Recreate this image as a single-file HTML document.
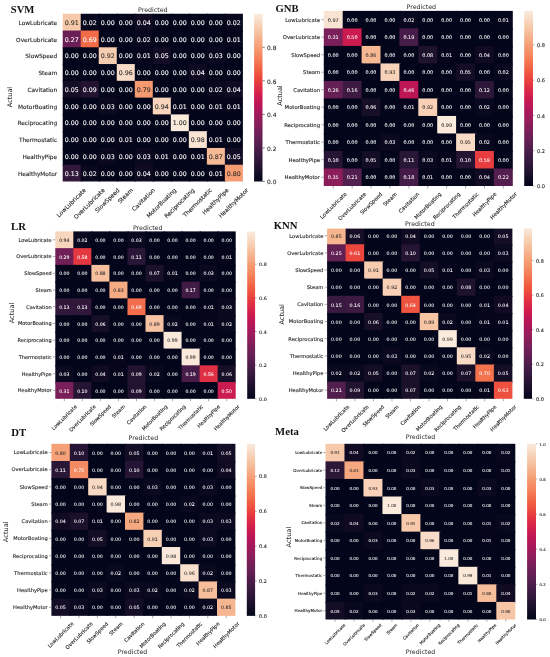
<!DOCTYPE html>
<html><head><meta charset="utf-8"><title>Confusion matrices</title>
<style>
html,body{margin:0;padding:0;background:#fff;}
svg{display:block;font-family:"DejaVu Sans","Liberation Sans",sans-serif;}
</style></head><body>
<svg width="550" height="657" viewBox="0 0 550 657">
<defs><linearGradient id="gsvm" x1="0" y1="0" x2="0" y2="1"><stop offset="0.0000" stop-color="#faebdd"/><stop offset="0.0250" stop-color="#f9e2d0"/><stop offset="0.0500" stop-color="#f8d9c3"/><stop offset="0.0750" stop-color="#f7cfb3"/><stop offset="0.1000" stop-color="#f7c6a6"/><stop offset="0.1250" stop-color="#f6bc99"/><stop offset="0.1500" stop-color="#f6b18b"/><stop offset="0.1750" stop-color="#f6a880"/><stop offset="0.2000" stop-color="#f69c73"/><stop offset="0.2250" stop-color="#f59269"/><stop offset="0.2500" stop-color="#f58860"/><stop offset="0.2750" stop-color="#f47c55"/><stop offset="0.3000" stop-color="#f3714d"/><stop offset="0.3250" stop-color="#f16445"/><stop offset="0.3500" stop-color="#ef5840"/><stop offset="0.3750" stop-color="#ec4c3e"/><stop offset="0.4000" stop-color="#e83f3f"/><stop offset="0.4250" stop-color="#e23442"/><stop offset="0.4500" stop-color="#db2946"/><stop offset="0.4750" stop-color="#d3214b"/><stop offset="0.5000" stop-color="#cb1b4f"/><stop offset="0.5250" stop-color="#c11754"/><stop offset="0.5500" stop-color="#b71657"/><stop offset="0.5750" stop-color="#ab185a"/><stop offset="0.6000" stop-color="#a11a5b"/><stop offset="0.6250" stop-color="#971c5b"/><stop offset="0.6500" stop-color="#8b1d5b"/><stop offset="0.6750" stop-color="#811e5a"/><stop offset="0.7000" stop-color="#751f58"/><stop offset="0.7250" stop-color="#6b1f56"/><stop offset="0.7500" stop-color="#611f53"/><stop offset="0.7750" stop-color="#561e4f"/><stop offset="0.8000" stop-color="#4c1d4b"/><stop offset="0.8250" stop-color="#421b45"/><stop offset="0.8500" stop-color="#381a40"/><stop offset="0.8750" stop-color="#30173a"/><stop offset="0.9000" stop-color="#251433"/><stop offset="0.9250" stop-color="#1d112c"/><stop offset="0.9500" stop-color="#130d25"/><stop offset="0.9750" stop-color="#0a091f"/><stop offset="1.0000" stop-color="#03051a"/></linearGradient>
<linearGradient id="ggnb" x1="0" y1="0" x2="0" y2="1"><stop offset="0.0000" stop-color="#faebdd"/><stop offset="0.0250" stop-color="#f9e2d0"/><stop offset="0.0500" stop-color="#f8d9c3"/><stop offset="0.0750" stop-color="#f7cfb3"/><stop offset="0.1000" stop-color="#f7c6a6"/><stop offset="0.1250" stop-color="#f6bc99"/><stop offset="0.1500" stop-color="#f6b18b"/><stop offset="0.1750" stop-color="#f6a880"/><stop offset="0.2000" stop-color="#f69c73"/><stop offset="0.2250" stop-color="#f59269"/><stop offset="0.2500" stop-color="#f58860"/><stop offset="0.2750" stop-color="#f47c55"/><stop offset="0.3000" stop-color="#f3714d"/><stop offset="0.3250" stop-color="#f16445"/><stop offset="0.3500" stop-color="#ef5840"/><stop offset="0.3750" stop-color="#ec4c3e"/><stop offset="0.4000" stop-color="#e83f3f"/><stop offset="0.4250" stop-color="#e23442"/><stop offset="0.4500" stop-color="#db2946"/><stop offset="0.4750" stop-color="#d3214b"/><stop offset="0.5000" stop-color="#cb1b4f"/><stop offset="0.5250" stop-color="#c11754"/><stop offset="0.5500" stop-color="#b71657"/><stop offset="0.5750" stop-color="#ab185a"/><stop offset="0.6000" stop-color="#a11a5b"/><stop offset="0.6250" stop-color="#971c5b"/><stop offset="0.6500" stop-color="#8b1d5b"/><stop offset="0.6750" stop-color="#811e5a"/><stop offset="0.7000" stop-color="#751f58"/><stop offset="0.7250" stop-color="#6b1f56"/><stop offset="0.7500" stop-color="#611f53"/><stop offset="0.7750" stop-color="#561e4f"/><stop offset="0.8000" stop-color="#4c1d4b"/><stop offset="0.8250" stop-color="#421b45"/><stop offset="0.8500" stop-color="#381a40"/><stop offset="0.8750" stop-color="#30173a"/><stop offset="0.9000" stop-color="#251433"/><stop offset="0.9250" stop-color="#1d112c"/><stop offset="0.9500" stop-color="#130d25"/><stop offset="0.9750" stop-color="#0a091f"/><stop offset="1.0000" stop-color="#03051a"/></linearGradient>
<linearGradient id="glr" x1="0" y1="0" x2="0" y2="1"><stop offset="0.0000" stop-color="#faebdd"/><stop offset="0.0250" stop-color="#f9e2d0"/><stop offset="0.0500" stop-color="#f8d9c3"/><stop offset="0.0750" stop-color="#f7cfb3"/><stop offset="0.1000" stop-color="#f7c6a6"/><stop offset="0.1250" stop-color="#f6bc99"/><stop offset="0.1500" stop-color="#f6b18b"/><stop offset="0.1750" stop-color="#f6a880"/><stop offset="0.2000" stop-color="#f69c73"/><stop offset="0.2250" stop-color="#f59269"/><stop offset="0.2500" stop-color="#f58860"/><stop offset="0.2750" stop-color="#f47c55"/><stop offset="0.3000" stop-color="#f3714d"/><stop offset="0.3250" stop-color="#f16445"/><stop offset="0.3500" stop-color="#ef5840"/><stop offset="0.3750" stop-color="#ec4c3e"/><stop offset="0.4000" stop-color="#e83f3f"/><stop offset="0.4250" stop-color="#e23442"/><stop offset="0.4500" stop-color="#db2946"/><stop offset="0.4750" stop-color="#d3214b"/><stop offset="0.5000" stop-color="#cb1b4f"/><stop offset="0.5250" stop-color="#c11754"/><stop offset="0.5500" stop-color="#b71657"/><stop offset="0.5750" stop-color="#ab185a"/><stop offset="0.6000" stop-color="#a11a5b"/><stop offset="0.6250" stop-color="#971c5b"/><stop offset="0.6500" stop-color="#8b1d5b"/><stop offset="0.6750" stop-color="#811e5a"/><stop offset="0.7000" stop-color="#751f58"/><stop offset="0.7250" stop-color="#6b1f56"/><stop offset="0.7500" stop-color="#611f53"/><stop offset="0.7750" stop-color="#561e4f"/><stop offset="0.8000" stop-color="#4c1d4b"/><stop offset="0.8250" stop-color="#421b45"/><stop offset="0.8500" stop-color="#381a40"/><stop offset="0.8750" stop-color="#30173a"/><stop offset="0.9000" stop-color="#251433"/><stop offset="0.9250" stop-color="#1d112c"/><stop offset="0.9500" stop-color="#130d25"/><stop offset="0.9750" stop-color="#0a091f"/><stop offset="1.0000" stop-color="#03051a"/></linearGradient>
<linearGradient id="gknn" x1="0" y1="0" x2="0" y2="1"><stop offset="0.0000" stop-color="#faebdd"/><stop offset="0.0250" stop-color="#f9e2d0"/><stop offset="0.0500" stop-color="#f8d9c3"/><stop offset="0.0750" stop-color="#f7cfb3"/><stop offset="0.1000" stop-color="#f7c6a6"/><stop offset="0.1250" stop-color="#f6bc99"/><stop offset="0.1500" stop-color="#f6b18b"/><stop offset="0.1750" stop-color="#f6a880"/><stop offset="0.2000" stop-color="#f69c73"/><stop offset="0.2250" stop-color="#f59269"/><stop offset="0.2500" stop-color="#f58860"/><stop offset="0.2750" stop-color="#f47c55"/><stop offset="0.3000" stop-color="#f3714d"/><stop offset="0.3250" stop-color="#f16445"/><stop offset="0.3500" stop-color="#ef5840"/><stop offset="0.3750" stop-color="#ec4c3e"/><stop offset="0.4000" stop-color="#e83f3f"/><stop offset="0.4250" stop-color="#e23442"/><stop offset="0.4500" stop-color="#db2946"/><stop offset="0.4750" stop-color="#d3214b"/><stop offset="0.5000" stop-color="#cb1b4f"/><stop offset="0.5250" stop-color="#c11754"/><stop offset="0.5500" stop-color="#b71657"/><stop offset="0.5750" stop-color="#ab185a"/><stop offset="0.6000" stop-color="#a11a5b"/><stop offset="0.6250" stop-color="#971c5b"/><stop offset="0.6500" stop-color="#8b1d5b"/><stop offset="0.6750" stop-color="#811e5a"/><stop offset="0.7000" stop-color="#751f58"/><stop offset="0.7250" stop-color="#6b1f56"/><stop offset="0.7500" stop-color="#611f53"/><stop offset="0.7750" stop-color="#561e4f"/><stop offset="0.8000" stop-color="#4c1d4b"/><stop offset="0.8250" stop-color="#421b45"/><stop offset="0.8500" stop-color="#381a40"/><stop offset="0.8750" stop-color="#30173a"/><stop offset="0.9000" stop-color="#251433"/><stop offset="0.9250" stop-color="#1d112c"/><stop offset="0.9500" stop-color="#130d25"/><stop offset="0.9750" stop-color="#0a091f"/><stop offset="1.0000" stop-color="#03051a"/></linearGradient>
<clipPath id="cknn"><rect x="0" y="228.60" width="550" height="400"/></clipPath>
<linearGradient id="gdt" x1="0" y1="0" x2="0" y2="1"><stop offset="0.0000" stop-color="#faebdd"/><stop offset="0.0250" stop-color="#f9e2d0"/><stop offset="0.0500" stop-color="#f8d9c3"/><stop offset="0.0750" stop-color="#f7cfb3"/><stop offset="0.1000" stop-color="#f7c6a6"/><stop offset="0.1250" stop-color="#f6bc99"/><stop offset="0.1500" stop-color="#f6b18b"/><stop offset="0.1750" stop-color="#f6a880"/><stop offset="0.2000" stop-color="#f69c73"/><stop offset="0.2250" stop-color="#f59269"/><stop offset="0.2500" stop-color="#f58860"/><stop offset="0.2750" stop-color="#f47c55"/><stop offset="0.3000" stop-color="#f3714d"/><stop offset="0.3250" stop-color="#f16445"/><stop offset="0.3500" stop-color="#ef5840"/><stop offset="0.3750" stop-color="#ec4c3e"/><stop offset="0.4000" stop-color="#e83f3f"/><stop offset="0.4250" stop-color="#e23442"/><stop offset="0.4500" stop-color="#db2946"/><stop offset="0.4750" stop-color="#d3214b"/><stop offset="0.5000" stop-color="#cb1b4f"/><stop offset="0.5250" stop-color="#c11754"/><stop offset="0.5500" stop-color="#b71657"/><stop offset="0.5750" stop-color="#ab185a"/><stop offset="0.6000" stop-color="#a11a5b"/><stop offset="0.6250" stop-color="#971c5b"/><stop offset="0.6500" stop-color="#8b1d5b"/><stop offset="0.6750" stop-color="#811e5a"/><stop offset="0.7000" stop-color="#751f58"/><stop offset="0.7250" stop-color="#6b1f56"/><stop offset="0.7500" stop-color="#611f53"/><stop offset="0.7750" stop-color="#561e4f"/><stop offset="0.8000" stop-color="#4c1d4b"/><stop offset="0.8250" stop-color="#421b45"/><stop offset="0.8500" stop-color="#381a40"/><stop offset="0.8750" stop-color="#30173a"/><stop offset="0.9000" stop-color="#251433"/><stop offset="0.9250" stop-color="#1d112c"/><stop offset="0.9500" stop-color="#130d25"/><stop offset="0.9750" stop-color="#0a091f"/><stop offset="1.0000" stop-color="#03051a"/></linearGradient>
<linearGradient id="gmeta" x1="0" y1="0" x2="0" y2="1"><stop offset="0.0000" stop-color="#faebdd"/><stop offset="0.0250" stop-color="#f9e2d0"/><stop offset="0.0500" stop-color="#f8d9c3"/><stop offset="0.0750" stop-color="#f7cfb3"/><stop offset="0.1000" stop-color="#f7c6a6"/><stop offset="0.1250" stop-color="#f6bc99"/><stop offset="0.1500" stop-color="#f6b18b"/><stop offset="0.1750" stop-color="#f6a880"/><stop offset="0.2000" stop-color="#f69c73"/><stop offset="0.2250" stop-color="#f59269"/><stop offset="0.2500" stop-color="#f58860"/><stop offset="0.2750" stop-color="#f47c55"/><stop offset="0.3000" stop-color="#f3714d"/><stop offset="0.3250" stop-color="#f16445"/><stop offset="0.3500" stop-color="#ef5840"/><stop offset="0.3750" stop-color="#ec4c3e"/><stop offset="0.4000" stop-color="#e83f3f"/><stop offset="0.4250" stop-color="#e23442"/><stop offset="0.4500" stop-color="#db2946"/><stop offset="0.4750" stop-color="#d3214b"/><stop offset="0.5000" stop-color="#cb1b4f"/><stop offset="0.5250" stop-color="#c11754"/><stop offset="0.5500" stop-color="#b71657"/><stop offset="0.5750" stop-color="#ab185a"/><stop offset="0.6000" stop-color="#a11a5b"/><stop offset="0.6250" stop-color="#971c5b"/><stop offset="0.6500" stop-color="#8b1d5b"/><stop offset="0.6750" stop-color="#811e5a"/><stop offset="0.7000" stop-color="#751f58"/><stop offset="0.7250" stop-color="#6b1f56"/><stop offset="0.7500" stop-color="#611f53"/><stop offset="0.7750" stop-color="#561e4f"/><stop offset="0.8000" stop-color="#4c1d4b"/><stop offset="0.8250" stop-color="#421b45"/><stop offset="0.8500" stop-color="#381a40"/><stop offset="0.8750" stop-color="#30173a"/><stop offset="0.9000" stop-color="#251433"/><stop offset="0.9250" stop-color="#1d112c"/><stop offset="0.9500" stop-color="#130d25"/><stop offset="0.9750" stop-color="#0a091f"/><stop offset="1.0000" stop-color="#03051a"/></linearGradient><filter id="blur" color-interpolation-filters="sRGB" x="0" y="0" width="100%%" height="100%%" filterUnits="userSpaceOnUse"><feGaussianBlur stdDeviation="0.55"/></filter></defs>
<rect width="550" height="657" fill="#ffffff"/>
<g filter="url(#blur)">
<g id="psvm"><rect x="62.70" y="13.75" width="19.32" height="18.07" fill="#f7c9aa"/>
<rect x="80.72" y="13.75" width="19.32" height="18.07" fill="#08081e"/>
<rect x="98.74" y="13.75" width="19.32" height="18.07" fill="#03051a"/>
<rect x="116.76" y="13.75" width="19.32" height="18.07" fill="#03051a"/>
<rect x="134.78" y="13.75" width="19.32" height="18.07" fill="#100b23"/>
<rect x="152.80" y="13.75" width="19.32" height="18.07" fill="#03051a"/>
<rect x="170.82" y="13.75" width="19.32" height="18.07" fill="#03051a"/>
<rect x="188.84" y="13.75" width="19.32" height="18.07" fill="#03051a"/>
<rect x="206.86" y="13.75" width="19.32" height="18.07" fill="#03051a"/>
<rect x="224.88" y="13.75" width="18.02" height="18.07" fill="#08081e"/>
<rect x="62.70" y="30.52" width="19.32" height="18.07" fill="#691f55"/>
<rect x="80.72" y="30.52" width="19.32" height="18.07" fill="#f26b49"/>
<rect x="98.74" y="30.52" width="19.32" height="18.07" fill="#03051a"/>
<rect x="116.76" y="30.52" width="19.32" height="18.07" fill="#03051a"/>
<rect x="134.78" y="30.52" width="19.32" height="18.07" fill="#08081e"/>
<rect x="152.80" y="30.52" width="19.32" height="18.07" fill="#03051a"/>
<rect x="170.82" y="30.52" width="19.32" height="18.07" fill="#03051a"/>
<rect x="188.84" y="30.52" width="19.32" height="18.07" fill="#03051a"/>
<rect x="206.86" y="30.52" width="19.32" height="18.07" fill="#03051a"/>
<rect x="224.88" y="30.52" width="18.02" height="18.07" fill="#05061b"/>
<rect x="62.70" y="47.30" width="19.32" height="18.07" fill="#03051a"/>
<rect x="80.72" y="47.30" width="19.32" height="18.07" fill="#03051a"/>
<rect x="98.74" y="47.30" width="19.32" height="18.07" fill="#f7cdb1"/>
<rect x="116.76" y="47.30" width="19.32" height="18.07" fill="#03051a"/>
<rect x="134.78" y="47.30" width="19.32" height="18.07" fill="#05061b"/>
<rect x="152.80" y="47.30" width="19.32" height="18.07" fill="#130d25"/>
<rect x="170.82" y="47.30" width="19.32" height="18.07" fill="#03051a"/>
<rect x="188.84" y="47.30" width="19.32" height="18.07" fill="#03051a"/>
<rect x="206.86" y="47.30" width="19.32" height="18.07" fill="#0b0920"/>
<rect x="224.88" y="47.30" width="18.02" height="18.07" fill="#03051a"/>
<rect x="62.70" y="64.07" width="19.32" height="18.07" fill="#03051a"/>
<rect x="80.72" y="64.07" width="19.32" height="18.07" fill="#03051a"/>
<rect x="98.74" y="64.07" width="19.32" height="18.07" fill="#03051a"/>
<rect x="116.76" y="64.07" width="19.32" height="18.07" fill="#f8dcc7"/>
<rect x="134.78" y="64.07" width="19.32" height="18.07" fill="#03051a"/>
<rect x="152.80" y="64.07" width="19.32" height="18.07" fill="#03051a"/>
<rect x="170.82" y="64.07" width="19.32" height="18.07" fill="#03051a"/>
<rect x="188.84" y="64.07" width="19.32" height="18.07" fill="#100b23"/>
<rect x="206.86" y="64.07" width="19.32" height="18.07" fill="#03051a"/>
<rect x="224.88" y="64.07" width="18.02" height="18.07" fill="#03051a"/>
<rect x="62.70" y="80.85" width="19.32" height="18.07" fill="#130d25"/>
<rect x="80.72" y="80.85" width="19.32" height="18.07" fill="#221331"/>
<rect x="98.74" y="80.85" width="19.32" height="18.07" fill="#03051a"/>
<rect x="116.76" y="80.85" width="19.32" height="18.07" fill="#03051a"/>
<rect x="134.78" y="80.85" width="19.32" height="18.07" fill="#f59970"/>
<rect x="152.80" y="80.85" width="19.32" height="18.07" fill="#03051a"/>
<rect x="170.82" y="80.85" width="19.32" height="18.07" fill="#03051a"/>
<rect x="188.84" y="80.85" width="19.32" height="18.07" fill="#03051a"/>
<rect x="206.86" y="80.85" width="19.32" height="18.07" fill="#08081e"/>
<rect x="224.88" y="80.85" width="18.02" height="18.07" fill="#100b23"/>
<rect x="62.70" y="97.62" width="19.32" height="18.07" fill="#03051a"/>
<rect x="80.72" y="97.62" width="19.32" height="18.07" fill="#03051a"/>
<rect x="98.74" y="97.62" width="19.32" height="18.07" fill="#0b0920"/>
<rect x="116.76" y="97.62" width="19.32" height="18.07" fill="#03051a"/>
<rect x="134.78" y="97.62" width="19.32" height="18.07" fill="#03051a"/>
<rect x="152.80" y="97.62" width="19.32" height="18.07" fill="#f8d4bc"/>
<rect x="170.82" y="97.62" width="19.32" height="18.07" fill="#05061b"/>
<rect x="188.84" y="97.62" width="19.32" height="18.07" fill="#03051a"/>
<rect x="206.86" y="97.62" width="19.32" height="18.07" fill="#05061b"/>
<rect x="224.88" y="97.62" width="18.02" height="18.07" fill="#05061b"/>
<rect x="62.70" y="114.40" width="19.32" height="18.07" fill="#03051a"/>
<rect x="80.72" y="114.40" width="19.32" height="18.07" fill="#03051a"/>
<rect x="98.74" y="114.40" width="19.32" height="18.07" fill="#03051a"/>
<rect x="116.76" y="114.40" width="19.32" height="18.07" fill="#03051a"/>
<rect x="134.78" y="114.40" width="19.32" height="18.07" fill="#03051a"/>
<rect x="152.80" y="114.40" width="19.32" height="18.07" fill="#03051a"/>
<rect x="170.82" y="114.40" width="19.32" height="18.07" fill="#faebdd"/>
<rect x="188.84" y="114.40" width="19.32" height="18.07" fill="#03051a"/>
<rect x="206.86" y="114.40" width="19.32" height="18.07" fill="#03051a"/>
<rect x="224.88" y="114.40" width="18.02" height="18.07" fill="#03051a"/>
<rect x="62.70" y="131.17" width="19.32" height="18.07" fill="#03051a"/>
<rect x="80.72" y="131.17" width="19.32" height="18.07" fill="#03051a"/>
<rect x="98.74" y="131.17" width="19.32" height="18.07" fill="#03051a"/>
<rect x="116.76" y="131.17" width="19.32" height="18.07" fill="#05061b"/>
<rect x="134.78" y="131.17" width="19.32" height="18.07" fill="#03051a"/>
<rect x="152.80" y="131.17" width="19.32" height="18.07" fill="#03051a"/>
<rect x="170.82" y="131.17" width="19.32" height="18.07" fill="#03051a"/>
<rect x="188.84" y="131.17" width="19.32" height="18.07" fill="#f9e3d2"/>
<rect x="206.86" y="131.17" width="19.32" height="18.07" fill="#05061b"/>
<rect x="224.88" y="131.17" width="18.02" height="18.07" fill="#03051a"/>
<rect x="62.70" y="147.95" width="19.32" height="18.07" fill="#03051a"/>
<rect x="80.72" y="147.95" width="19.32" height="18.07" fill="#03051a"/>
<rect x="98.74" y="147.95" width="19.32" height="18.07" fill="#0b0920"/>
<rect x="116.76" y="147.95" width="19.32" height="18.07" fill="#03051a"/>
<rect x="134.78" y="147.95" width="19.32" height="18.07" fill="#0b0920"/>
<rect x="152.80" y="147.95" width="19.32" height="18.07" fill="#05061b"/>
<rect x="170.82" y="147.95" width="19.32" height="18.07" fill="#03051a"/>
<rect x="188.84" y="147.95" width="19.32" height="18.07" fill="#05061b"/>
<rect x="206.86" y="147.95" width="19.32" height="18.07" fill="#f6b995"/>
<rect x="224.88" y="147.95" width="18.02" height="18.07" fill="#130d25"/>
<rect x="62.70" y="164.72" width="19.32" height="16.77" fill="#31183b"/>
<rect x="80.72" y="164.72" width="19.32" height="16.77" fill="#08081e"/>
<rect x="98.74" y="164.72" width="19.32" height="16.77" fill="#03051a"/>
<rect x="116.76" y="164.72" width="19.32" height="16.77" fill="#03051a"/>
<rect x="134.78" y="164.72" width="19.32" height="16.77" fill="#100b23"/>
<rect x="152.80" y="164.72" width="19.32" height="16.77" fill="#03051a"/>
<rect x="170.82" y="164.72" width="19.32" height="16.77" fill="#03051a"/>
<rect x="188.84" y="164.72" width="19.32" height="16.77" fill="#03051a"/>
<rect x="206.86" y="164.72" width="19.32" height="16.77" fill="#05061b"/>
<rect x="224.88" y="164.72" width="18.02" height="16.77" fill="#f69c73"/>
<g font-size="6.30" text-anchor="middle" fill="#fff" stroke="#fff" stroke-width="0.08"><text x="89.73" y="24.74">0.02</text><text x="107.75" y="24.74">0.00</text><text x="125.77" y="24.74">0.00</text><text x="143.79" y="24.74">0.04</text><text x="161.81" y="24.74">0.00</text><text x="179.83" y="24.74">0.00</text><text x="197.85" y="24.74">0.00</text><text x="215.87" y="24.74">0.00</text><text x="233.89" y="24.74">0.02</text><text x="71.71" y="41.51">0.27</text><text x="89.73" y="41.51">0.69</text><text x="107.75" y="41.51">0.00</text><text x="125.77" y="41.51">0.00</text><text x="143.79" y="41.51">0.02</text><text x="161.81" y="41.51">0.00</text><text x="179.83" y="41.51">0.00</text><text x="197.85" y="41.51">0.00</text><text x="215.87" y="41.51">0.00</text><text x="233.89" y="41.51">0.01</text><text x="71.71" y="58.29">0.00</text><text x="89.73" y="58.29">0.00</text><text x="125.77" y="58.29">0.00</text><text x="143.79" y="58.29">0.01</text><text x="161.81" y="58.29">0.05</text><text x="179.83" y="58.29">0.00</text><text x="197.85" y="58.29">0.00</text><text x="215.87" y="58.29">0.03</text><text x="233.89" y="58.29">0.00</text><text x="71.71" y="75.06">0.00</text><text x="89.73" y="75.06">0.00</text><text x="107.75" y="75.06">0.00</text><text x="143.79" y="75.06">0.00</text><text x="161.81" y="75.06">0.00</text><text x="179.83" y="75.06">0.00</text><text x="197.85" y="75.06">0.04</text><text x="215.87" y="75.06">0.00</text><text x="233.89" y="75.06">0.00</text><text x="71.71" y="91.84">0.05</text><text x="89.73" y="91.84">0.09</text><text x="107.75" y="91.84">0.00</text><text x="125.77" y="91.84">0.00</text><text x="161.81" y="91.84">0.00</text><text x="179.83" y="91.84">0.00</text><text x="197.85" y="91.84">0.00</text><text x="215.87" y="91.84">0.02</text><text x="233.89" y="91.84">0.04</text><text x="71.71" y="108.61">0.00</text><text x="89.73" y="108.61">0.00</text><text x="107.75" y="108.61">0.03</text><text x="125.77" y="108.61">0.00</text><text x="143.79" y="108.61">0.00</text><text x="179.83" y="108.61">0.01</text><text x="197.85" y="108.61">0.00</text><text x="215.87" y="108.61">0.01</text><text x="233.89" y="108.61">0.01</text><text x="71.71" y="125.39">0.00</text><text x="89.73" y="125.39">0.00</text><text x="107.75" y="125.39">0.00</text><text x="125.77" y="125.39">0.00</text><text x="143.79" y="125.39">0.00</text><text x="161.81" y="125.39">0.00</text><text x="197.85" y="125.39">0.00</text><text x="215.87" y="125.39">0.00</text><text x="233.89" y="125.39">0.00</text><text x="71.71" y="142.16">0.00</text><text x="89.73" y="142.16">0.00</text><text x="107.75" y="142.16">0.00</text><text x="125.77" y="142.16">0.01</text><text x="143.79" y="142.16">0.00</text><text x="161.81" y="142.16">0.00</text><text x="179.83" y="142.16">0.00</text><text x="215.87" y="142.16">0.01</text><text x="233.89" y="142.16">0.00</text><text x="71.71" y="158.94">0.00</text><text x="89.73" y="158.94">0.00</text><text x="107.75" y="158.94">0.03</text><text x="125.77" y="158.94">0.00</text><text x="143.79" y="158.94">0.03</text><text x="161.81" y="158.94">0.01</text><text x="179.83" y="158.94">0.00</text><text x="197.85" y="158.94">0.01</text><text x="233.89" y="158.94">0.05</text><text x="71.71" y="175.71">0.13</text><text x="89.73" y="175.71">0.02</text><text x="107.75" y="175.71">0.00</text><text x="125.77" y="175.71">0.00</text><text x="143.79" y="175.71">0.04</text><text x="161.81" y="175.71">0.00</text><text x="179.83" y="175.71">0.00</text><text x="197.85" y="175.71">0.00</text><text x="215.87" y="175.71">0.01</text></g>
<g font-size="6.30" text-anchor="middle" fill="#262626" stroke="#262626" stroke-width="0.08"><text x="71.71" y="24.74">0.91</text><text x="107.75" y="58.29">0.92</text><text x="125.77" y="75.06">0.96</text><text x="143.79" y="91.84">0.79</text><text x="161.81" y="108.61">0.94</text><text x="179.83" y="125.39">1.00</text><text x="197.85" y="142.16">0.98</text><text x="215.87" y="158.94">0.87</text><text x="233.89" y="175.71">0.80</text></g>
<g font-size="5.80" text-anchor="end" fill="#262626" stroke="#262626" stroke-width="0.12">
<text x="57.10" y="24.75">LowLubricate</text>
<text x="57.10" y="41.53">OverLubricate</text>
<text x="57.10" y="58.30">SlowSpeed</text>
<text x="57.10" y="75.08">Steam</text>
<text x="57.10" y="91.85">Cavitation</text>
<text x="57.10" y="108.63">MotorBoating</text>
<text x="57.10" y="125.40">Reciprocating</text>
<text x="57.10" y="142.18">Thermostatic</text>
<text x="57.10" y="158.95">HealthyPipe</text>
<text x="57.10" y="175.73">HealthyMotor</text>
</g>
<g font-size="5.80" text-anchor="middle" fill="#262626" stroke="#262626" stroke-width="0.12">
<text x="71.21" y="204.80" transform="rotate(-45 71.21 202.69)">LowLubricate</text>
<text x="89.23" y="205.70" transform="rotate(-45 89.23 203.58)">OverLubricate</text>
<text x="107.25" y="202.43" transform="rotate(-45 107.25 200.31)">SlowSpeed</text>
<text x="125.27" y="197.82" transform="rotate(-45 125.27 195.70)">Steam</text>
<text x="143.29" y="201.66" transform="rotate(-45 143.29 199.54)">Cavitation</text>
<text x="161.31" y="205.01" transform="rotate(-45 161.31 202.90)">MotorBoating</text>
<text x="179.33" y="205.20" transform="rotate(-45 179.33 203.08)">Reciprocating</text>
<text x="197.35" y="204.70" transform="rotate(-45 197.35 202.58)">Thermostatic</text>
<text x="215.37" y="203.47" transform="rotate(-45 215.37 201.35)">HealthyPipe</text>
<text x="233.39" y="205.07" transform="rotate(-45 233.39 202.95)">HealthyMotor</text>
</g>
<text x="152.80" y="11.60" font-size="6.30" text-anchor="middle" fill="#262626">Predicted</text>
<text x="12.40" y="97.00" font-size="6.50" text-anchor="middle" fill="#262626" transform="rotate(-90 12.40 97.00)">Actual</text>
<rect x="254.10" y="13.75" width="8.40" height="167.75" fill="url(#gsvm)"/>
<g font-size="5.90" fill="#262626" stroke="#262626" stroke-width="0.12">
<text x="267.10" y="184.15">0.0</text>
<text x="267.10" y="150.60">0.2</text>
<text x="267.10" y="117.05">0.4</text>
<text x="267.10" y="83.50">0.6</text>
<text x="267.10" y="49.95">0.8</text>
</g>
<path d="M262.50 181.50h2.30M262.50 147.95h2.30M262.50 114.40h2.30M262.50 80.85h2.30M262.50 47.30h2.30" stroke="#222" stroke-width="0.60" fill="none"/>
<text x="10.70" y="12.80" font-family="'Liberation Serif',serif" font-weight="bold" font-size="10.70" fill="#111">SVM</text></g>
<g id="pgnb"><rect x="323.80" y="10.90" width="20.20" height="18.81" fill="#f9e3d2"/>
<rect x="342.70" y="10.90" width="20.20" height="18.81" fill="#03051a"/>
<rect x="361.60" y="10.90" width="20.20" height="18.81" fill="#03051a"/>
<rect x="380.50" y="10.90" width="20.20" height="18.81" fill="#03051a"/>
<rect x="399.40" y="10.90" width="20.20" height="18.81" fill="#08081e"/>
<rect x="418.30" y="10.90" width="20.20" height="18.81" fill="#03051a"/>
<rect x="437.20" y="10.90" width="20.20" height="18.81" fill="#03051a"/>
<rect x="456.10" y="10.90" width="20.20" height="18.81" fill="#03051a"/>
<rect x="475.00" y="10.90" width="20.20" height="18.81" fill="#03051a"/>
<rect x="493.90" y="10.90" width="18.90" height="18.81" fill="#05061b"/>
<rect x="323.80" y="28.41" width="20.20" height="18.81" fill="#7a1f59"/>
<rect x="342.70" y="28.41" width="20.20" height="18.81" fill="#cb1b4f"/>
<rect x="361.60" y="28.41" width="20.20" height="18.81" fill="#03051a"/>
<rect x="380.50" y="28.41" width="20.20" height="18.81" fill="#03051a"/>
<rect x="399.40" y="28.41" width="20.20" height="18.81" fill="#481c48"/>
<rect x="418.30" y="28.41" width="20.20" height="18.81" fill="#03051a"/>
<rect x="437.20" y="28.41" width="20.20" height="18.81" fill="#03051a"/>
<rect x="456.10" y="28.41" width="20.20" height="18.81" fill="#03051a"/>
<rect x="475.00" y="28.41" width="20.20" height="18.81" fill="#03051a"/>
<rect x="493.90" y="28.41" width="18.90" height="18.81" fill="#03051a"/>
<rect x="323.80" y="45.92" width="20.20" height="18.81" fill="#03051a"/>
<rect x="342.70" y="45.92" width="20.20" height="18.81" fill="#03051a"/>
<rect x="361.60" y="45.92" width="20.20" height="18.81" fill="#f6b893"/>
<rect x="380.50" y="45.92" width="20.20" height="18.81" fill="#03051a"/>
<rect x="399.40" y="45.92" width="20.20" height="18.81" fill="#03051a"/>
<rect x="418.30" y="45.92" width="20.20" height="18.81" fill="#1e122d"/>
<rect x="437.20" y="45.92" width="20.20" height="18.81" fill="#05061b"/>
<rect x="456.10" y="45.92" width="20.20" height="18.81" fill="#03051a"/>
<rect x="475.00" y="45.92" width="20.20" height="18.81" fill="#100b23"/>
<rect x="493.90" y="45.92" width="18.90" height="18.81" fill="#03051a"/>
<rect x="323.80" y="63.43" width="20.20" height="18.81" fill="#03051a"/>
<rect x="342.70" y="63.43" width="20.20" height="18.81" fill="#03051a"/>
<rect x="361.60" y="63.43" width="20.20" height="18.81" fill="#03051a"/>
<rect x="380.50" y="63.43" width="20.20" height="18.81" fill="#f8d3ba"/>
<rect x="399.40" y="63.43" width="20.20" height="18.81" fill="#03051a"/>
<rect x="418.30" y="63.43" width="20.20" height="18.81" fill="#03051a"/>
<rect x="437.20" y="63.43" width="20.20" height="18.81" fill="#03051a"/>
<rect x="456.10" y="63.43" width="20.20" height="18.81" fill="#130d25"/>
<rect x="475.00" y="63.43" width="20.20" height="18.81" fill="#03051a"/>
<rect x="493.90" y="63.43" width="18.90" height="18.81" fill="#08081e"/>
<rect x="323.80" y="80.94" width="20.20" height="18.81" fill="#661f54"/>
<rect x="342.70" y="80.94" width="20.20" height="18.81" fill="#3d1a42"/>
<rect x="361.60" y="80.94" width="20.20" height="18.81" fill="#03051a"/>
<rect x="380.50" y="80.94" width="20.20" height="18.81" fill="#03051a"/>
<rect x="399.40" y="80.94" width="20.20" height="18.81" fill="#bc1656"/>
<rect x="418.30" y="80.94" width="20.20" height="18.81" fill="#03051a"/>
<rect x="437.20" y="80.94" width="20.20" height="18.81" fill="#03051a"/>
<rect x="456.10" y="80.94" width="20.20" height="18.81" fill="#03051a"/>
<rect x="475.00" y="80.94" width="20.20" height="18.81" fill="#2d1738"/>
<rect x="493.90" y="80.94" width="18.90" height="18.81" fill="#03051a"/>
<rect x="323.80" y="98.45" width="20.20" height="18.81" fill="#03051a"/>
<rect x="342.70" y="98.45" width="20.20" height="18.81" fill="#03051a"/>
<rect x="361.60" y="98.45" width="20.20" height="18.81" fill="#170f28"/>
<rect x="380.50" y="98.45" width="20.20" height="18.81" fill="#03051a"/>
<rect x="399.40" y="98.45" width="20.20" height="18.81" fill="#05061b"/>
<rect x="418.30" y="98.45" width="20.20" height="18.81" fill="#f7d0b5"/>
<rect x="437.20" y="98.45" width="20.20" height="18.81" fill="#03051a"/>
<rect x="456.10" y="98.45" width="20.20" height="18.81" fill="#03051a"/>
<rect x="475.00" y="98.45" width="20.20" height="18.81" fill="#08081e"/>
<rect x="493.90" y="98.45" width="18.90" height="18.81" fill="#03051a"/>
<rect x="323.80" y="115.96" width="20.20" height="18.81" fill="#03051a"/>
<rect x="342.70" y="115.96" width="20.20" height="18.81" fill="#03051a"/>
<rect x="361.60" y="115.96" width="20.20" height="18.81" fill="#03051a"/>
<rect x="380.50" y="115.96" width="20.20" height="18.81" fill="#03051a"/>
<rect x="399.40" y="115.96" width="20.20" height="18.81" fill="#03051a"/>
<rect x="418.30" y="115.96" width="20.20" height="18.81" fill="#03051a"/>
<rect x="437.20" y="115.96" width="20.20" height="18.81" fill="#faebdd"/>
<rect x="456.10" y="115.96" width="20.20" height="18.81" fill="#03051a"/>
<rect x="475.00" y="115.96" width="20.20" height="18.81" fill="#03051a"/>
<rect x="493.90" y="115.96" width="18.90" height="18.81" fill="#03051a"/>
<rect x="323.80" y="133.47" width="20.20" height="18.81" fill="#03051a"/>
<rect x="342.70" y="133.47" width="20.20" height="18.81" fill="#03051a"/>
<rect x="361.60" y="133.47" width="20.20" height="18.81" fill="#03051a"/>
<rect x="380.50" y="133.47" width="20.20" height="18.81" fill="#0b0920"/>
<rect x="399.40" y="133.47" width="20.20" height="18.81" fill="#03051a"/>
<rect x="418.30" y="133.47" width="20.20" height="18.81" fill="#03051a"/>
<rect x="437.20" y="133.47" width="20.20" height="18.81" fill="#03051a"/>
<rect x="456.10" y="133.47" width="20.20" height="18.81" fill="#f8dac5"/>
<rect x="475.00" y="133.47" width="20.20" height="18.81" fill="#08081e"/>
<rect x="493.90" y="133.47" width="18.90" height="18.81" fill="#03051a"/>
<rect x="323.80" y="150.98" width="20.20" height="18.81" fill="#251433"/>
<rect x="342.70" y="150.98" width="20.20" height="18.81" fill="#03051a"/>
<rect x="361.60" y="150.98" width="20.20" height="18.81" fill="#130d25"/>
<rect x="380.50" y="150.98" width="20.20" height="18.81" fill="#03051a"/>
<rect x="399.40" y="150.98" width="20.20" height="18.81" fill="#2a1636"/>
<rect x="418.30" y="150.98" width="20.20" height="18.81" fill="#0b0920"/>
<rect x="437.20" y="150.98" width="20.20" height="18.81" fill="#05061b"/>
<rect x="456.10" y="150.98" width="20.20" height="18.81" fill="#251433"/>
<rect x="475.00" y="150.98" width="20.20" height="18.81" fill="#e73d3f"/>
<rect x="493.90" y="150.98" width="18.90" height="18.81" fill="#03051a"/>
<rect x="323.80" y="168.49" width="20.20" height="17.51" fill="#8c1d5b"/>
<rect x="342.70" y="168.49" width="20.20" height="17.51" fill="#511e4d"/>
<rect x="361.60" y="168.49" width="20.20" height="17.51" fill="#03051a"/>
<rect x="380.50" y="168.49" width="20.20" height="17.51" fill="#03051a"/>
<rect x="399.40" y="168.49" width="20.20" height="17.51" fill="#451c47"/>
<rect x="418.30" y="168.49" width="20.20" height="17.51" fill="#05061b"/>
<rect x="437.20" y="168.49" width="20.20" height="17.51" fill="#03051a"/>
<rect x="456.10" y="168.49" width="20.20" height="17.51" fill="#03051a"/>
<rect x="475.00" y="168.49" width="20.20" height="17.51" fill="#100b23"/>
<rect x="493.90" y="168.49" width="18.90" height="17.51" fill="#541e4e"/>
<g font-size="4.90" text-anchor="middle" fill="#fff" stroke="#fff" stroke-width="0.05"><text x="352.15" y="21.84">0.00</text><text x="371.05" y="21.84">0.00</text><text x="389.95" y="21.84">0.00</text><text x="408.85" y="21.84">0.02</text><text x="427.75" y="21.84">0.00</text><text x="446.65" y="21.84">0.00</text><text x="465.55" y="21.84">0.00</text><text x="484.45" y="21.84">0.00</text><text x="503.35" y="21.84">0.01</text><text x="333.25" y="39.35">0.31</text><text x="352.15" y="39.35">0.50</text><text x="371.05" y="39.35">0.00</text><text x="389.95" y="39.35">0.00</text><text x="408.85" y="39.35">0.19</text><text x="427.75" y="39.35">0.00</text><text x="446.65" y="39.35">0.00</text><text x="465.55" y="39.35">0.00</text><text x="484.45" y="39.35">0.00</text><text x="503.35" y="39.35">0.00</text><text x="333.25" y="56.86">0.00</text><text x="352.15" y="56.86">0.00</text><text x="389.95" y="56.86">0.00</text><text x="408.85" y="56.86">0.00</text><text x="427.75" y="56.86">0.08</text><text x="446.65" y="56.86">0.01</text><text x="465.55" y="56.86">0.00</text><text x="484.45" y="56.86">0.04</text><text x="503.35" y="56.86">0.00</text><text x="333.25" y="74.37">0.00</text><text x="352.15" y="74.37">0.00</text><text x="371.05" y="74.37">0.00</text><text x="408.85" y="74.37">0.00</text><text x="427.75" y="74.37">0.00</text><text x="446.65" y="74.37">0.00</text><text x="465.55" y="74.37">0.05</text><text x="484.45" y="74.37">0.00</text><text x="503.35" y="74.37">0.02</text><text x="333.25" y="91.88">0.26</text><text x="352.15" y="91.88">0.16</text><text x="371.05" y="91.88">0.00</text><text x="389.95" y="91.88">0.00</text><text x="408.85" y="91.88">0.46</text><text x="427.75" y="91.88">0.00</text><text x="446.65" y="91.88">0.00</text><text x="465.55" y="91.88">0.00</text><text x="484.45" y="91.88">0.12</text><text x="503.35" y="91.88">0.00</text><text x="333.25" y="109.39">0.00</text><text x="352.15" y="109.39">0.00</text><text x="371.05" y="109.39">0.06</text><text x="389.95" y="109.39">0.00</text><text x="408.85" y="109.39">0.01</text><text x="446.65" y="109.39">0.00</text><text x="465.55" y="109.39">0.00</text><text x="484.45" y="109.39">0.02</text><text x="503.35" y="109.39">0.00</text><text x="333.25" y="126.90">0.00</text><text x="352.15" y="126.90">0.00</text><text x="371.05" y="126.90">0.00</text><text x="389.95" y="126.90">0.00</text><text x="408.85" y="126.90">0.00</text><text x="427.75" y="126.90">0.00</text><text x="465.55" y="126.90">0.00</text><text x="484.45" y="126.90">0.00</text><text x="503.35" y="126.90">0.00</text><text x="333.25" y="144.41">0.00</text><text x="352.15" y="144.41">0.00</text><text x="371.05" y="144.41">0.00</text><text x="389.95" y="144.41">0.03</text><text x="408.85" y="144.41">0.00</text><text x="427.75" y="144.41">0.00</text><text x="446.65" y="144.41">0.00</text><text x="484.45" y="144.41">0.02</text><text x="503.35" y="144.41">0.00</text><text x="333.25" y="161.92">0.10</text><text x="352.15" y="161.92">0.00</text><text x="371.05" y="161.92">0.05</text><text x="389.95" y="161.92">0.00</text><text x="408.85" y="161.92">0.11</text><text x="427.75" y="161.92">0.03</text><text x="446.65" y="161.92">0.01</text><text x="465.55" y="161.92">0.10</text><text x="484.45" y="161.92">0.59</text><text x="503.35" y="161.92">0.00</text><text x="333.25" y="179.43">0.35</text><text x="352.15" y="179.43">0.21</text><text x="371.05" y="179.43">0.00</text><text x="389.95" y="179.43">0.00</text><text x="408.85" y="179.43">0.18</text><text x="427.75" y="179.43">0.01</text><text x="446.65" y="179.43">0.00</text><text x="465.55" y="179.43">0.00</text><text x="484.45" y="179.43">0.04</text><text x="503.35" y="179.43">0.22</text></g>
<g font-size="4.90" text-anchor="middle" fill="#262626" stroke="#262626" stroke-width="0.05"><text x="333.25" y="21.84">0.97</text><text x="371.05" y="56.86">0.86</text><text x="389.95" y="74.37">0.93</text><text x="427.75" y="109.39">0.92</text><text x="446.65" y="126.90">0.99</text><text x="465.55" y="144.41">0.95</text></g>
<g font-size="5.25" text-anchor="end" fill="#262626" stroke="#262626" stroke-width="0.12">
<text x="320.00" y="21.57">LowLubricate</text>
<text x="320.00" y="39.08">OverLubricate</text>
<text x="320.00" y="56.59">SlowSpeed</text>
<text x="320.00" y="74.10">Steam</text>
<text x="320.00" y="91.61">Cavitation</text>
<text x="320.00" y="109.12">MotorBoating</text>
<text x="320.00" y="126.63">Reciprocating</text>
<text x="320.00" y="144.14">Thermostatic</text>
<text x="320.00" y="161.65">HealthyPipe</text>
<text x="320.00" y="179.16">HealthyMotor</text>
</g>
<g font-size="5.25" text-anchor="middle" fill="#262626" stroke="#262626" stroke-width="0.12">
<text x="333.25" y="207.39" transform="rotate(-45 333.25 205.47)">LowLubricate</text>
<text x="352.15" y="208.20" transform="rotate(-45 352.15 206.28)">OverLubricate</text>
<text x="371.05" y="205.24" transform="rotate(-45 371.05 203.32)">SlowSpeed</text>
<text x="389.95" y="201.06" transform="rotate(-45 389.95 199.15)">Steam</text>
<text x="408.85" y="204.54" transform="rotate(-45 408.85 202.62)">Cavitation</text>
<text x="427.75" y="207.58" transform="rotate(-45 427.75 205.66)">MotorBoating</text>
<text x="446.65" y="207.75" transform="rotate(-45 446.65 205.83)">Reciprocating</text>
<text x="465.55" y="207.29" transform="rotate(-45 465.55 205.38)">Thermostatic</text>
<text x="484.45" y="206.18" transform="rotate(-45 484.45 204.26)">HealthyPipe</text>
<text x="503.35" y="207.63" transform="rotate(-45 503.35 205.71)">HealthyMotor</text>
</g>
<path d="M321.30 19.66h2.50M333.25 186.00v2.50M321.30 37.16h2.50M352.15 186.00v2.50M321.30 54.67h2.50M371.05 186.00v2.50M321.30 72.19h2.50M389.95 186.00v2.50M321.30 89.69h2.50M408.85 186.00v2.50M321.30 107.20h2.50M427.75 186.00v2.50M321.30 124.71h2.50M446.65 186.00v2.50M321.30 142.22h2.50M465.55 186.00v2.50M321.30 159.73h2.50M484.45 186.00v2.50M321.30 177.24h2.50M503.35 186.00v2.50" stroke="#444" stroke-width="0.45" fill="none"/>
<text x="421.30" y="8.50" font-size="6.30" text-anchor="middle" fill="#262626">Predicted</text>
<text x="282.00" y="95.50" font-size="6.50" text-anchor="middle" fill="#262626" transform="rotate(-90 282.00 95.50)">Actual</text>
<rect x="524.20" y="10.90" width="8.80" height="175.10" fill="url(#ggnb)"/>
<g font-size="5.00" fill="#262626" stroke="#262626" stroke-width="0.12">
<text x="537.00" y="188.12">0.0</text>
<text x="537.00" y="152.85">0.2</text>
<text x="537.00" y="117.57">0.4</text>
<text x="537.00" y="82.29">0.6</text>
<text x="537.00" y="47.01">0.8</text>
</g>
<path d="M533.00 186.00h1.50M533.00 150.72h1.50M533.00 115.44h1.50M533.00 80.17h1.50M533.00 44.89h1.50" stroke="#444" stroke-width="0.45" fill="none"/>
<text x="275.50" y="12.20" font-family="'Liberation Serif',serif" font-weight="bold" font-size="10.70" fill="#111">GNB</text></g>
<g id="plr"><rect x="55.30" y="231.40" width="19.34" height="18.04" fill="#f8d6be"/>
<rect x="73.34" y="231.40" width="19.34" height="18.04" fill="#08081e"/>
<rect x="91.38" y="231.40" width="19.34" height="18.04" fill="#03051a"/>
<rect x="109.42" y="231.40" width="19.34" height="18.04" fill="#03051a"/>
<rect x="127.46" y="231.40" width="19.34" height="18.04" fill="#0b0920"/>
<rect x="145.50" y="231.40" width="19.34" height="18.04" fill="#03051a"/>
<rect x="163.54" y="231.40" width="19.34" height="18.04" fill="#03051a"/>
<rect x="181.58" y="231.40" width="19.34" height="18.04" fill="#03051a"/>
<rect x="199.62" y="231.40" width="19.34" height="18.04" fill="#03051a"/>
<rect x="217.66" y="231.40" width="18.04" height="18.04" fill="#03051a"/>
<rect x="55.30" y="248.14" width="19.34" height="18.04" fill="#711f57"/>
<rect x="73.34" y="248.14" width="19.34" height="18.04" fill="#e43841"/>
<rect x="91.38" y="248.14" width="19.34" height="18.04" fill="#03051a"/>
<rect x="109.42" y="248.14" width="19.34" height="18.04" fill="#03051a"/>
<rect x="127.46" y="248.14" width="19.34" height="18.04" fill="#2a1636"/>
<rect x="145.50" y="248.14" width="19.34" height="18.04" fill="#03051a"/>
<rect x="163.54" y="248.14" width="19.34" height="18.04" fill="#03051a"/>
<rect x="181.58" y="248.14" width="19.34" height="18.04" fill="#03051a"/>
<rect x="199.62" y="248.14" width="19.34" height="18.04" fill="#03051a"/>
<rect x="217.66" y="248.14" width="18.04" height="18.04" fill="#05061b"/>
<rect x="55.30" y="264.88" width="19.34" height="18.04" fill="#03051a"/>
<rect x="73.34" y="264.88" width="19.34" height="18.04" fill="#03051a"/>
<rect x="91.38" y="264.88" width="19.34" height="18.04" fill="#f6bf9d"/>
<rect x="109.42" y="264.88" width="19.34" height="18.04" fill="#03051a"/>
<rect x="127.46" y="264.88" width="19.34" height="18.04" fill="#03051a"/>
<rect x="145.50" y="264.88" width="19.34" height="18.04" fill="#1b112b"/>
<rect x="163.54" y="264.88" width="19.34" height="18.04" fill="#05061b"/>
<rect x="181.58" y="264.88" width="19.34" height="18.04" fill="#03051a"/>
<rect x="199.62" y="264.88" width="19.34" height="18.04" fill="#0b0920"/>
<rect x="217.66" y="264.88" width="18.04" height="18.04" fill="#03051a"/>
<rect x="55.30" y="281.62" width="19.34" height="18.04" fill="#03051a"/>
<rect x="73.34" y="281.62" width="19.34" height="18.04" fill="#03051a"/>
<rect x="91.38" y="281.62" width="19.34" height="18.04" fill="#03051a"/>
<rect x="109.42" y="281.62" width="19.34" height="18.04" fill="#f6ab83"/>
<rect x="127.46" y="281.62" width="19.34" height="18.04" fill="#03051a"/>
<rect x="145.50" y="281.62" width="19.34" height="18.04" fill="#03051a"/>
<rect x="163.54" y="281.62" width="19.34" height="18.04" fill="#03051a"/>
<rect x="181.58" y="281.62" width="19.34" height="18.04" fill="#401b44"/>
<rect x="199.62" y="281.62" width="19.34" height="18.04" fill="#03051a"/>
<rect x="217.66" y="281.62" width="18.04" height="18.04" fill="#03051a"/>
<rect x="55.30" y="298.36" width="19.34" height="18.04" fill="#31183b"/>
<rect x="73.34" y="298.36" width="19.34" height="18.04" fill="#31183b"/>
<rect x="91.38" y="298.36" width="19.34" height="18.04" fill="#03051a"/>
<rect x="109.42" y="298.36" width="19.34" height="18.04" fill="#03051a"/>
<rect x="127.46" y="298.36" width="19.34" height="18.04" fill="#f26d4b"/>
<rect x="145.50" y="298.36" width="19.34" height="18.04" fill="#03051a"/>
<rect x="163.54" y="298.36" width="19.34" height="18.04" fill="#03051a"/>
<rect x="181.58" y="298.36" width="19.34" height="18.04" fill="#03051a"/>
<rect x="199.62" y="298.36" width="19.34" height="18.04" fill="#05061b"/>
<rect x="217.66" y="298.36" width="18.04" height="18.04" fill="#0b0920"/>
<rect x="55.30" y="315.10" width="19.34" height="18.04" fill="#03051a"/>
<rect x="73.34" y="315.10" width="19.34" height="18.04" fill="#03051a"/>
<rect x="91.38" y="315.10" width="19.34" height="18.04" fill="#170f28"/>
<rect x="109.42" y="315.10" width="19.34" height="18.04" fill="#03051a"/>
<rect x="127.46" y="315.10" width="19.34" height="18.04" fill="#03051a"/>
<rect x="145.50" y="315.10" width="19.34" height="18.04" fill="#f7c2a2"/>
<rect x="163.54" y="315.10" width="19.34" height="18.04" fill="#08081e"/>
<rect x="181.58" y="315.10" width="19.34" height="18.04" fill="#03051a"/>
<rect x="199.62" y="315.10" width="19.34" height="18.04" fill="#05061b"/>
<rect x="217.66" y="315.10" width="18.04" height="18.04" fill="#08081e"/>
<rect x="55.30" y="331.84" width="19.34" height="18.04" fill="#03051a"/>
<rect x="73.34" y="331.84" width="19.34" height="18.04" fill="#03051a"/>
<rect x="91.38" y="331.84" width="19.34" height="18.04" fill="#03051a"/>
<rect x="109.42" y="331.84" width="19.34" height="18.04" fill="#03051a"/>
<rect x="127.46" y="331.84" width="19.34" height="18.04" fill="#03051a"/>
<rect x="145.50" y="331.84" width="19.34" height="18.04" fill="#03051a"/>
<rect x="163.54" y="331.84" width="19.34" height="18.04" fill="#fae9da"/>
<rect x="181.58" y="331.84" width="19.34" height="18.04" fill="#03051a"/>
<rect x="199.62" y="331.84" width="19.34" height="18.04" fill="#03051a"/>
<rect x="217.66" y="331.84" width="18.04" height="18.04" fill="#03051a"/>
<rect x="55.30" y="348.58" width="19.34" height="18.04" fill="#03051a"/>
<rect x="73.34" y="348.58" width="19.34" height="18.04" fill="#03051a"/>
<rect x="91.38" y="348.58" width="19.34" height="18.04" fill="#03051a"/>
<rect x="109.42" y="348.58" width="19.34" height="18.04" fill="#05061b"/>
<rect x="127.46" y="348.58" width="19.34" height="18.04" fill="#03051a"/>
<rect x="145.50" y="348.58" width="19.34" height="18.04" fill="#03051a"/>
<rect x="163.54" y="348.58" width="19.34" height="18.04" fill="#03051a"/>
<rect x="181.58" y="348.58" width="19.34" height="18.04" fill="#fae9da"/>
<rect x="199.62" y="348.58" width="19.34" height="18.04" fill="#03051a"/>
<rect x="217.66" y="348.58" width="18.04" height="18.04" fill="#03051a"/>
<rect x="55.30" y="365.32" width="19.34" height="18.04" fill="#0b0920"/>
<rect x="73.34" y="365.32" width="19.34" height="18.04" fill="#03051a"/>
<rect x="91.38" y="365.32" width="19.34" height="18.04" fill="#100b23"/>
<rect x="109.42" y="365.32" width="19.34" height="18.04" fill="#05061b"/>
<rect x="127.46" y="365.32" width="19.34" height="18.04" fill="#221331"/>
<rect x="145.50" y="365.32" width="19.34" height="18.04" fill="#08081e"/>
<rect x="163.54" y="365.32" width="19.34" height="18.04" fill="#03051a"/>
<rect x="181.58" y="365.32" width="19.34" height="18.04" fill="#481c48"/>
<rect x="199.62" y="365.32" width="19.34" height="18.04" fill="#df2f44"/>
<rect x="217.66" y="365.32" width="18.04" height="18.04" fill="#170f28"/>
<rect x="55.30" y="382.06" width="19.34" height="16.74" fill="#7a1f59"/>
<rect x="73.34" y="382.06" width="19.34" height="16.74" fill="#251433"/>
<rect x="91.38" y="382.06" width="19.34" height="16.74" fill="#03051a"/>
<rect x="109.42" y="382.06" width="19.34" height="16.74" fill="#03051a"/>
<rect x="127.46" y="382.06" width="19.34" height="16.74" fill="#221331"/>
<rect x="145.50" y="382.06" width="19.34" height="16.74" fill="#03051a"/>
<rect x="163.54" y="382.06" width="19.34" height="16.74" fill="#03051a"/>
<rect x="181.58" y="382.06" width="19.34" height="16.74" fill="#03051a"/>
<rect x="199.62" y="382.06" width="19.34" height="16.74" fill="#03051a"/>
<rect x="217.66" y="382.06" width="18.04" height="16.74" fill="#cb1b4f"/>
<g font-size="4.67" text-anchor="middle" fill="#fff" stroke="#fff" stroke-width="0.05"><text x="82.36" y="241.88">0.02</text><text x="100.40" y="241.88">0.00</text><text x="118.44" y="241.88">0.00</text><text x="136.48" y="241.88">0.03</text><text x="154.52" y="241.88">0.00</text><text x="172.56" y="241.88">0.00</text><text x="190.60" y="241.88">0.00</text><text x="208.64" y="241.88">0.00</text><text x="226.68" y="241.88">0.00</text><text x="64.32" y="258.62">0.29</text><text x="82.36" y="258.62">0.58</text><text x="100.40" y="258.62">0.00</text><text x="118.44" y="258.62">0.00</text><text x="136.48" y="258.62">0.11</text><text x="154.52" y="258.62">0.00</text><text x="172.56" y="258.62">0.00</text><text x="190.60" y="258.62">0.00</text><text x="208.64" y="258.62">0.00</text><text x="226.68" y="258.62">0.01</text><text x="64.32" y="275.36">0.00</text><text x="82.36" y="275.36">0.00</text><text x="118.44" y="275.36">0.00</text><text x="136.48" y="275.36">0.00</text><text x="154.52" y="275.36">0.07</text><text x="172.56" y="275.36">0.01</text><text x="190.60" y="275.36">0.00</text><text x="208.64" y="275.36">0.03</text><text x="226.68" y="275.36">0.00</text><text x="64.32" y="292.10">0.00</text><text x="82.36" y="292.10">0.00</text><text x="100.40" y="292.10">0.00</text><text x="136.48" y="292.10">0.00</text><text x="154.52" y="292.10">0.00</text><text x="172.56" y="292.10">0.00</text><text x="190.60" y="292.10">0.17</text><text x="208.64" y="292.10">0.00</text><text x="226.68" y="292.10">0.00</text><text x="64.32" y="308.84">0.13</text><text x="82.36" y="308.84">0.13</text><text x="100.40" y="308.84">0.00</text><text x="118.44" y="308.84">0.00</text><text x="136.48" y="308.84">0.69</text><text x="154.52" y="308.84">0.00</text><text x="172.56" y="308.84">0.00</text><text x="190.60" y="308.84">0.00</text><text x="208.64" y="308.84">0.01</text><text x="226.68" y="308.84">0.03</text><text x="64.32" y="325.58">0.00</text><text x="82.36" y="325.58">0.00</text><text x="100.40" y="325.58">0.06</text><text x="118.44" y="325.58">0.00</text><text x="136.48" y="325.58">0.00</text><text x="172.56" y="325.58">0.02</text><text x="190.60" y="325.58">0.00</text><text x="208.64" y="325.58">0.01</text><text x="226.68" y="325.58">0.02</text><text x="64.32" y="342.32">0.00</text><text x="82.36" y="342.32">0.00</text><text x="100.40" y="342.32">0.00</text><text x="118.44" y="342.32">0.00</text><text x="136.48" y="342.32">0.00</text><text x="154.52" y="342.32">0.00</text><text x="190.60" y="342.32">0.00</text><text x="208.64" y="342.32">0.00</text><text x="226.68" y="342.32">0.00</text><text x="64.32" y="359.06">0.00</text><text x="82.36" y="359.06">0.00</text><text x="100.40" y="359.06">0.00</text><text x="118.44" y="359.06">0.01</text><text x="136.48" y="359.06">0.00</text><text x="154.52" y="359.06">0.00</text><text x="172.56" y="359.06">0.00</text><text x="208.64" y="359.06">0.00</text><text x="226.68" y="359.06">0.00</text><text x="64.32" y="375.80">0.03</text><text x="82.36" y="375.80">0.00</text><text x="100.40" y="375.80">0.04</text><text x="118.44" y="375.80">0.01</text><text x="136.48" y="375.80">0.09</text><text x="154.52" y="375.80">0.02</text><text x="172.56" y="375.80">0.00</text><text x="190.60" y="375.80">0.19</text><text x="208.64" y="375.80">0.56</text><text x="226.68" y="375.80">0.06</text><text x="64.32" y="392.54">0.31</text><text x="82.36" y="392.54">0.10</text><text x="100.40" y="392.54">0.00</text><text x="118.44" y="392.54">0.00</text><text x="136.48" y="392.54">0.09</text><text x="154.52" y="392.54">0.00</text><text x="172.56" y="392.54">0.00</text><text x="190.60" y="392.54">0.00</text><text x="208.64" y="392.54">0.00</text><text x="226.68" y="392.54">0.50</text></g>
<g font-size="4.67" text-anchor="middle" fill="#262626" stroke="#262626" stroke-width="0.05"><text x="64.32" y="241.88">0.94</text><text x="100.40" y="275.36">0.88</text><text x="118.44" y="292.10">0.83</text><text x="154.52" y="325.58">0.89</text><text x="172.56" y="342.32">0.99</text><text x="190.60" y="359.06">0.99</text></g>
<g font-size="5.01" text-anchor="end" fill="#262626" stroke="#262626" stroke-width="0.12">
<text x="51.67" y="241.60">LowLubricate</text>
<text x="51.67" y="258.34">OverLubricate</text>
<text x="51.67" y="275.08">SlowSpeed</text>
<text x="51.67" y="291.82">Steam</text>
<text x="51.67" y="308.56">Cavitation</text>
<text x="51.67" y="325.30">MotorBoating</text>
<text x="51.67" y="342.04">Reciprocating</text>
<text x="51.67" y="358.78">Thermostatic</text>
<text x="51.67" y="375.52">HealthyPipe</text>
<text x="51.67" y="392.26">HealthyMotor</text>
</g>
<g font-size="5.01" text-anchor="middle" fill="#262626" stroke="#262626" stroke-width="0.12">
<text x="64.32" y="419.20" transform="rotate(-45 64.32 417.38)">LowLubricate</text>
<text x="82.36" y="419.98" transform="rotate(-45 82.36 418.15)">OverLubricate</text>
<text x="100.40" y="417.15" transform="rotate(-45 100.40 415.32)">SlowSpeed</text>
<text x="118.44" y="413.17" transform="rotate(-45 118.44 411.34)">Steam</text>
<text x="136.48" y="416.49" transform="rotate(-45 136.48 414.66)">Cavitation</text>
<text x="154.52" y="419.39" transform="rotate(-45 154.52 417.56)">MotorBoating</text>
<text x="172.56" y="419.55" transform="rotate(-45 172.56 417.72)">Reciprocating</text>
<text x="190.60" y="419.11" transform="rotate(-45 190.60 417.28)">Thermostatic</text>
<text x="208.64" y="418.05" transform="rotate(-45 208.64 416.22)">HealthyPipe</text>
<text x="226.68" y="419.43" transform="rotate(-45 226.68 417.60)">HealthyMotor</text>
</g>
<path d="M52.91 239.77h2.38M64.32 398.80v2.38M52.91 256.51h2.38M82.36 398.80v2.38M52.91 273.25h2.38M100.40 398.80v2.38M52.91 289.99h2.38M118.44 398.80v2.38M52.91 306.73h2.38M136.48 398.80v2.38M52.91 323.47h2.38M154.52 398.80v2.38M52.91 340.21h2.38M172.56 398.80v2.38M52.91 356.95h2.38M190.60 398.80v2.38M52.91 373.69h2.38M208.64 398.80v2.38M52.91 390.43h2.38M226.68 398.80v2.38" stroke="#444" stroke-width="0.45" fill="none"/>
<text x="147.70" y="229.70" font-size="6.30" text-anchor="middle" fill="#262626">Predicted</text>
<text x="13.50" y="313.00" font-size="6.60" text-anchor="middle" fill="#262626" transform="rotate(-90 13.50 313.00)">Actual</text>
<rect x="247.20" y="231.40" width="7.90" height="167.40" fill="url(#glr)"/>
<g font-size="4.77" fill="#262626" stroke="#262626" stroke-width="0.12">
<text x="259.10" y="400.84">0.0</text>
<text x="259.10" y="367.19">0.2</text>
<text x="259.10" y="333.54">0.4</text>
<text x="259.10" y="299.90">0.6</text>
<text x="259.10" y="266.25">0.8</text>
</g>
<path d="M255.10 398.80h1.50M255.10 365.15h1.50M255.10 331.50h1.50M255.10 297.86h1.50M255.10 264.21h1.50" stroke="#444" stroke-width="0.45" fill="none"/>
<text x="11.10" y="229.50" font-family="'Liberation Serif',serif" font-weight="bold" font-size="10.70" fill="#111">LR</text></g>
<g id="pknn"><rect x="327.10" y="227.10" width="19.83" height="18.47" fill="#f6b48f"/>
<rect x="345.63" y="227.10" width="19.83" height="18.47" fill="#170f28"/>
<rect x="364.16" y="227.10" width="19.83" height="18.47" fill="#03051a"/>
<rect x="382.69" y="227.10" width="19.83" height="18.47" fill="#03051a"/>
<rect x="401.22" y="227.10" width="19.83" height="18.47" fill="#100b23"/>
<rect x="419.75" y="227.10" width="19.83" height="18.47" fill="#03051a"/>
<rect x="438.28" y="227.10" width="19.83" height="18.47" fill="#03051a"/>
<rect x="456.81" y="227.10" width="19.83" height="18.47" fill="#03051a"/>
<rect x="475.34" y="227.10" width="19.83" height="18.47" fill="#03051a"/>
<rect x="493.87" y="227.10" width="18.53" height="18.47" fill="#130d25"/>
<rect x="327.10" y="244.27" width="19.83" height="18.47" fill="#611f53"/>
<rect x="345.63" y="244.27" width="19.83" height="18.47" fill="#eb463e"/>
<rect x="364.16" y="244.27" width="19.83" height="18.47" fill="#03051a"/>
<rect x="382.69" y="244.27" width="19.83" height="18.47" fill="#03051a"/>
<rect x="401.22" y="244.27" width="19.83" height="18.47" fill="#251433"/>
<rect x="419.75" y="244.27" width="19.83" height="18.47" fill="#03051a"/>
<rect x="438.28" y="244.27" width="19.83" height="18.47" fill="#03051a"/>
<rect x="456.81" y="244.27" width="19.83" height="18.47" fill="#03051a"/>
<rect x="475.34" y="244.27" width="19.83" height="18.47" fill="#03051a"/>
<rect x="493.87" y="244.27" width="18.53" height="18.47" fill="#0b0920"/>
<rect x="327.10" y="261.44" width="19.83" height="18.47" fill="#03051a"/>
<rect x="345.63" y="261.44" width="19.83" height="18.47" fill="#03051a"/>
<rect x="364.16" y="261.44" width="19.83" height="18.47" fill="#f7ccaf"/>
<rect x="382.69" y="261.44" width="19.83" height="18.47" fill="#03051a"/>
<rect x="401.22" y="261.44" width="19.83" height="18.47" fill="#03051a"/>
<rect x="419.75" y="261.44" width="19.83" height="18.47" fill="#130d25"/>
<rect x="438.28" y="261.44" width="19.83" height="18.47" fill="#05061b"/>
<rect x="456.81" y="261.44" width="19.83" height="18.47" fill="#03051a"/>
<rect x="475.34" y="261.44" width="19.83" height="18.47" fill="#0b0920"/>
<rect x="493.87" y="261.44" width="18.53" height="18.47" fill="#03051a"/>
<rect x="327.10" y="278.61" width="19.83" height="18.47" fill="#03051a"/>
<rect x="345.63" y="278.61" width="19.83" height="18.47" fill="#03051a"/>
<rect x="364.16" y="278.61" width="19.83" height="18.47" fill="#03051a"/>
<rect x="382.69" y="278.61" width="19.83" height="18.47" fill="#f7d0b5"/>
<rect x="401.22" y="278.61" width="19.83" height="18.47" fill="#03051a"/>
<rect x="419.75" y="278.61" width="19.83" height="18.47" fill="#03051a"/>
<rect x="438.28" y="278.61" width="19.83" height="18.47" fill="#03051a"/>
<rect x="456.81" y="278.61" width="19.83" height="18.47" fill="#1e122d"/>
<rect x="475.34" y="278.61" width="19.83" height="18.47" fill="#03051a"/>
<rect x="493.87" y="278.61" width="18.53" height="18.47" fill="#03051a"/>
<rect x="327.10" y="295.78" width="19.83" height="18.47" fill="#381a40"/>
<rect x="345.63" y="295.78" width="19.83" height="18.47" fill="#3d1a42"/>
<rect x="364.16" y="295.78" width="19.83" height="18.47" fill="#03051a"/>
<rect x="382.69" y="295.78" width="19.83" height="18.47" fill="#03051a"/>
<rect x="401.22" y="295.78" width="19.83" height="18.47" fill="#ee543f"/>
<rect x="419.75" y="295.78" width="19.83" height="18.47" fill="#03051a"/>
<rect x="438.28" y="295.78" width="19.83" height="18.47" fill="#03051a"/>
<rect x="456.81" y="295.78" width="19.83" height="18.47" fill="#03051a"/>
<rect x="475.34" y="295.78" width="19.83" height="18.47" fill="#05061b"/>
<rect x="493.87" y="295.78" width="18.53" height="18.47" fill="#100b23"/>
<rect x="327.10" y="312.95" width="19.83" height="18.47" fill="#03051a"/>
<rect x="345.63" y="312.95" width="19.83" height="18.47" fill="#03051a"/>
<rect x="364.16" y="312.95" width="19.83" height="18.47" fill="#170f28"/>
<rect x="382.69" y="312.95" width="19.83" height="18.47" fill="#03051a"/>
<rect x="401.22" y="312.95" width="19.83" height="18.47" fill="#03051a"/>
<rect x="419.75" y="312.95" width="19.83" height="18.47" fill="#f7c4a4"/>
<rect x="438.28" y="312.95" width="19.83" height="18.47" fill="#08081e"/>
<rect x="456.81" y="312.95" width="19.83" height="18.47" fill="#03051a"/>
<rect x="475.34" y="312.95" width="19.83" height="18.47" fill="#05061b"/>
<rect x="493.87" y="312.95" width="18.53" height="18.47" fill="#05061b"/>
<rect x="327.10" y="330.12" width="19.83" height="18.47" fill="#03051a"/>
<rect x="345.63" y="330.12" width="19.83" height="18.47" fill="#03051a"/>
<rect x="364.16" y="330.12" width="19.83" height="18.47" fill="#03051a"/>
<rect x="382.69" y="330.12" width="19.83" height="18.47" fill="#03051a"/>
<rect x="401.22" y="330.12" width="19.83" height="18.47" fill="#03051a"/>
<rect x="419.75" y="330.12" width="19.83" height="18.47" fill="#03051a"/>
<rect x="438.28" y="330.12" width="19.83" height="18.47" fill="#faebdd"/>
<rect x="456.81" y="330.12" width="19.83" height="18.47" fill="#03051a"/>
<rect x="475.34" y="330.12" width="19.83" height="18.47" fill="#03051a"/>
<rect x="493.87" y="330.12" width="18.53" height="18.47" fill="#03051a"/>
<rect x="327.10" y="347.29" width="19.83" height="18.47" fill="#03051a"/>
<rect x="345.63" y="347.29" width="19.83" height="18.47" fill="#03051a"/>
<rect x="364.16" y="347.29" width="19.83" height="18.47" fill="#03051a"/>
<rect x="382.69" y="347.29" width="19.83" height="18.47" fill="#0b0920"/>
<rect x="401.22" y="347.29" width="19.83" height="18.47" fill="#03051a"/>
<rect x="419.75" y="347.29" width="19.83" height="18.47" fill="#03051a"/>
<rect x="438.28" y="347.29" width="19.83" height="18.47" fill="#03051a"/>
<rect x="456.81" y="347.29" width="19.83" height="18.47" fill="#f8dac5"/>
<rect x="475.34" y="347.29" width="19.83" height="18.47" fill="#08081e"/>
<rect x="493.87" y="347.29" width="18.53" height="18.47" fill="#03051a"/>
<rect x="327.10" y="364.46" width="19.83" height="18.47" fill="#08081e"/>
<rect x="345.63" y="364.46" width="19.83" height="18.47" fill="#08081e"/>
<rect x="364.16" y="364.46" width="19.83" height="18.47" fill="#130d25"/>
<rect x="382.69" y="364.46" width="19.83" height="18.47" fill="#03051a"/>
<rect x="401.22" y="364.46" width="19.83" height="18.47" fill="#1b112b"/>
<rect x="419.75" y="364.46" width="19.83" height="18.47" fill="#08081e"/>
<rect x="438.28" y="364.46" width="19.83" height="18.47" fill="#03051a"/>
<rect x="456.81" y="364.46" width="19.83" height="18.47" fill="#1b112b"/>
<rect x="475.34" y="364.46" width="19.83" height="18.47" fill="#f3734e"/>
<rect x="493.87" y="364.46" width="18.53" height="18.47" fill="#130d25"/>
<rect x="327.10" y="381.63" width="19.83" height="17.17" fill="#511e4d"/>
<rect x="345.63" y="381.63" width="19.83" height="17.17" fill="#221331"/>
<rect x="364.16" y="381.63" width="19.83" height="17.17" fill="#03051a"/>
<rect x="382.69" y="381.63" width="19.83" height="17.17" fill="#03051a"/>
<rect x="401.22" y="381.63" width="19.83" height="17.17" fill="#1b112b"/>
<rect x="419.75" y="381.63" width="19.83" height="17.17" fill="#03051a"/>
<rect x="438.28" y="381.63" width="19.83" height="17.17" fill="#03051a"/>
<rect x="456.81" y="381.63" width="19.83" height="17.17" fill="#03051a"/>
<rect x="475.34" y="381.63" width="19.83" height="17.17" fill="#05061b"/>
<rect x="493.87" y="381.63" width="18.53" height="17.17" fill="#ed503e"/>
<g font-size="4.80" text-anchor="middle" fill="#fff" stroke="#fff" stroke-width="0.05"><text x="354.90" y="237.84">0.06</text><text x="373.43" y="237.84">0.00</text><text x="391.95" y="237.84">0.00</text><text x="410.49" y="237.84">0.04</text><text x="429.01" y="237.84">0.00</text><text x="447.54" y="237.84">0.00</text><text x="466.07" y="237.84">0.00</text><text x="484.60" y="237.84">0.00</text><text x="503.13" y="237.84">0.05</text><text x="336.37" y="255.01">0.25</text><text x="354.90" y="255.01">0.61</text><text x="373.43" y="255.01">0.00</text><text x="391.95" y="255.01">0.00</text><text x="410.49" y="255.01">0.10</text><text x="429.01" y="255.01">0.00</text><text x="447.54" y="255.01">0.00</text><text x="466.07" y="255.01">0.00</text><text x="484.60" y="255.01">0.00</text><text x="503.13" y="255.01">0.03</text><text x="336.37" y="272.18">0.00</text><text x="354.90" y="272.18">0.00</text><text x="391.95" y="272.18">0.00</text><text x="410.49" y="272.18">0.00</text><text x="429.01" y="272.18">0.05</text><text x="447.54" y="272.18">0.01</text><text x="466.07" y="272.18">0.00</text><text x="484.60" y="272.18">0.03</text><text x="503.13" y="272.18">0.00</text><text x="336.37" y="289.35">0.00</text><text x="354.90" y="289.35">0.00</text><text x="373.43" y="289.35">0.00</text><text x="410.49" y="289.35">0.00</text><text x="429.01" y="289.35">0.00</text><text x="447.54" y="289.35">0.00</text><text x="466.07" y="289.35">0.08</text><text x="484.60" y="289.35">0.00</text><text x="503.13" y="289.35">0.00</text><text x="336.37" y="306.52">0.15</text><text x="354.90" y="306.52">0.16</text><text x="373.43" y="306.52">0.00</text><text x="391.95" y="306.52">0.00</text><text x="410.49" y="306.52">0.64</text><text x="429.01" y="306.52">0.00</text><text x="447.54" y="306.52">0.00</text><text x="466.07" y="306.52">0.00</text><text x="484.60" y="306.52">0.01</text><text x="503.13" y="306.52">0.04</text><text x="336.37" y="323.69">0.00</text><text x="354.90" y="323.69">0.00</text><text x="373.43" y="323.69">0.06</text><text x="391.95" y="323.69">0.00</text><text x="410.49" y="323.69">0.00</text><text x="447.54" y="323.69">0.02</text><text x="466.07" y="323.69">0.00</text><text x="484.60" y="323.69">0.01</text><text x="503.13" y="323.69">0.01</text><text x="336.37" y="340.86">0.00</text><text x="354.90" y="340.86">0.00</text><text x="373.43" y="340.86">0.00</text><text x="391.95" y="340.86">0.00</text><text x="410.49" y="340.86">0.00</text><text x="429.01" y="340.86">0.00</text><text x="466.07" y="340.86">0.00</text><text x="484.60" y="340.86">0.00</text><text x="503.13" y="340.86">0.00</text><text x="336.37" y="358.03">0.00</text><text x="354.90" y="358.03">0.00</text><text x="373.43" y="358.03">0.00</text><text x="391.95" y="358.03">0.03</text><text x="410.49" y="358.03">0.00</text><text x="429.01" y="358.03">0.00</text><text x="447.54" y="358.03">0.00</text><text x="484.60" y="358.03">0.02</text><text x="503.13" y="358.03">0.00</text><text x="336.37" y="375.20">0.02</text><text x="354.90" y="375.20">0.02</text><text x="373.43" y="375.20">0.05</text><text x="391.95" y="375.20">0.00</text><text x="410.49" y="375.20">0.07</text><text x="429.01" y="375.20">0.02</text><text x="447.54" y="375.20">0.00</text><text x="466.07" y="375.20">0.07</text><text x="484.60" y="375.20">0.70</text><text x="503.13" y="375.20">0.05</text><text x="336.37" y="392.37">0.21</text><text x="354.90" y="392.37">0.09</text><text x="373.43" y="392.37">0.00</text><text x="391.95" y="392.37">0.00</text><text x="410.49" y="392.37">0.07</text><text x="429.01" y="392.37">0.00</text><text x="447.54" y="392.37">0.00</text><text x="466.07" y="392.37">0.00</text><text x="484.60" y="392.37">0.01</text><text x="503.13" y="392.37">0.63</text></g>
<g font-size="4.80" text-anchor="middle" fill="#262626" stroke="#262626" stroke-width="0.05"><text x="336.37" y="237.84">0.85</text><text x="373.43" y="272.18">0.91</text><text x="391.95" y="289.35">0.92</text><text x="429.01" y="323.69">0.89</text><text x="447.54" y="340.86">0.99</text><text x="466.07" y="358.03">0.95</text></g>
<rect x="326.10" y="226.10" width="206.90" height="2.50" fill="#fff"/>
<g font-size="5.14" text-anchor="end" fill="#262626" stroke="#262626" stroke-width="0.12">
<text x="323.38" y="237.56">LowLubricate</text>
<text x="323.38" y="254.73">OverLubricate</text>
<text x="323.38" y="271.90">SlowSpeed</text>
<text x="323.38" y="289.07">Steam</text>
<text x="323.38" y="306.24">Cavitation</text>
<text x="323.38" y="323.41">MotorBoating</text>
<text x="323.38" y="340.58">Reciprocating</text>
<text x="323.38" y="357.75">Thermostatic</text>
<text x="323.38" y="374.92">HealthyPipe</text>
<text x="323.38" y="392.09">HealthyMotor</text>
</g>
<g font-size="5.14" text-anchor="middle" fill="#262626" stroke="#262626" stroke-width="0.12">
<text x="336.37" y="419.76" transform="rotate(-45 336.37 417.88)">LowLubricate</text>
<text x="354.90" y="420.55" transform="rotate(-45 354.90 418.68)">OverLubricate</text>
<text x="373.43" y="417.65" transform="rotate(-45 373.43 415.77)">SlowSpeed</text>
<text x="391.95" y="413.56" transform="rotate(-45 391.95 411.68)">Steam</text>
<text x="410.49" y="416.97" transform="rotate(-45 410.49 415.09)">Cavitation</text>
<text x="429.01" y="419.95" transform="rotate(-45 429.01 418.07)">MotorBoating</text>
<text x="447.54" y="420.11" transform="rotate(-45 447.54 418.23)">Reciprocating</text>
<text x="466.07" y="419.67" transform="rotate(-45 466.07 417.79)">Thermostatic</text>
<text x="484.60" y="418.57" transform="rotate(-45 484.60 416.70)">HealthyPipe</text>
<text x="503.13" y="419.99" transform="rotate(-45 503.13 418.12)">HealthyMotor</text>
</g>
<path d="M324.65 235.69h2.45M336.37 398.80v2.45M324.65 252.85h2.45M354.90 398.80v2.45M324.65 270.02h2.45M373.43 398.80v2.45M324.65 287.19h2.45M391.95 398.80v2.45M324.65 304.37h2.45M410.49 398.80v2.45M324.65 321.53h2.45M429.01 398.80v2.45M324.65 338.71h2.45M447.54 398.80v2.45M324.65 355.88h2.45M466.07 398.80v2.45M324.65 373.05h2.45M484.60 398.80v2.45M324.65 390.22h2.45M503.13 398.80v2.45" stroke="#444" stroke-width="0.45" fill="none"/>
<text x="419.90" y="226.40" font-size="6.30" text-anchor="middle" fill="#262626">Predicted</text>
<text x="284.00" y="314.30" font-size="6.50" text-anchor="middle" fill="#262626" transform="rotate(-90 284.00 314.30)">Actual</text>
<rect x="523.80" y="227.10" width="8.20" height="171.70" fill="url(#gknn)" clip-path="url(#cknn)"/>
<g font-size="4.90" fill="#262626" stroke="#262626" stroke-width="0.12">
<text x="536.00" y="400.89">0.0</text>
<text x="536.00" y="366.31">0.2</text>
<text x="536.00" y="331.72">0.4</text>
<text x="536.00" y="297.14">0.6</text>
<text x="536.00" y="262.56">0.8</text>
</g>
<path d="M532.00 398.80h1.50M532.00 364.22h1.50M532.00 329.64h1.50M532.00 295.05h1.50M532.00 260.47h1.50" stroke="#444" stroke-width="0.45" fill="none"/>
<text x="273.80" y="229.30" font-family="'Liberation Serif',serif" font-weight="bold" font-size="10.70" fill="#111">KNN</text></g>
<g id="pdt"><rect x="51.40" y="443.80" width="19.70" height="18.51" fill="#f6a178"/>
<rect x="69.80" y="443.80" width="19.70" height="18.51" fill="#251433"/>
<rect x="88.20" y="443.80" width="19.70" height="18.51" fill="#03051a"/>
<rect x="106.60" y="443.80" width="19.70" height="18.51" fill="#03051a"/>
<rect x="125.00" y="443.80" width="19.70" height="18.51" fill="#130d25"/>
<rect x="143.40" y="443.80" width="19.70" height="18.51" fill="#03051a"/>
<rect x="161.80" y="443.80" width="19.70" height="18.51" fill="#03051a"/>
<rect x="180.20" y="443.80" width="19.70" height="18.51" fill="#03051a"/>
<rect x="198.60" y="443.80" width="19.70" height="18.51" fill="#05061b"/>
<rect x="217.00" y="443.80" width="18.40" height="18.51" fill="#130d25"/>
<rect x="51.40" y="461.00" width="19.70" height="18.51" fill="#2a1636"/>
<rect x="69.80" y="461.00" width="19.70" height="18.51" fill="#f58b63"/>
<rect x="88.20" y="461.00" width="19.70" height="18.51" fill="#03051a"/>
<rect x="106.60" y="461.00" width="19.70" height="18.51" fill="#03051a"/>
<rect x="125.00" y="461.00" width="19.70" height="18.51" fill="#251433"/>
<rect x="143.40" y="461.00" width="19.70" height="18.51" fill="#03051a"/>
<rect x="161.80" y="461.00" width="19.70" height="18.51" fill="#03051a"/>
<rect x="180.20" y="461.00" width="19.70" height="18.51" fill="#03051a"/>
<rect x="198.60" y="461.00" width="19.70" height="18.51" fill="#03051a"/>
<rect x="217.00" y="461.00" width="18.40" height="18.51" fill="#100b23"/>
<rect x="51.40" y="478.21" width="19.70" height="18.51" fill="#03051a"/>
<rect x="69.80" y="478.21" width="19.70" height="18.51" fill="#03051a"/>
<rect x="88.20" y="478.21" width="19.70" height="18.51" fill="#f8d9c3"/>
<rect x="106.60" y="478.21" width="19.70" height="18.51" fill="#03051a"/>
<rect x="125.00" y="478.21" width="19.70" height="18.51" fill="#03051a"/>
<rect x="143.40" y="478.21" width="19.70" height="18.51" fill="#0b0920"/>
<rect x="161.80" y="478.21" width="19.70" height="18.51" fill="#03051a"/>
<rect x="180.20" y="478.21" width="19.70" height="18.51" fill="#03051a"/>
<rect x="198.60" y="478.21" width="19.70" height="18.51" fill="#0b0920"/>
<rect x="217.00" y="478.21" width="18.40" height="18.51" fill="#03051a"/>
<rect x="51.40" y="495.42" width="19.70" height="18.51" fill="#03051a"/>
<rect x="69.80" y="495.42" width="19.70" height="18.51" fill="#03051a"/>
<rect x="88.20" y="495.42" width="19.70" height="18.51" fill="#03051a"/>
<rect x="106.60" y="495.42" width="19.70" height="18.51" fill="#fae9da"/>
<rect x="125.00" y="495.42" width="19.70" height="18.51" fill="#03051a"/>
<rect x="143.40" y="495.42" width="19.70" height="18.51" fill="#03051a"/>
<rect x="161.80" y="495.42" width="19.70" height="18.51" fill="#03051a"/>
<rect x="180.20" y="495.42" width="19.70" height="18.51" fill="#08081e"/>
<rect x="198.60" y="495.42" width="19.70" height="18.51" fill="#03051a"/>
<rect x="217.00" y="495.42" width="18.40" height="18.51" fill="#03051a"/>
<rect x="51.40" y="512.62" width="19.70" height="18.51" fill="#100b23"/>
<rect x="69.80" y="512.62" width="19.70" height="18.51" fill="#1b112b"/>
<rect x="88.20" y="512.62" width="19.70" height="18.51" fill="#05061b"/>
<rect x="106.60" y="512.62" width="19.70" height="18.51" fill="#03051a"/>
<rect x="125.00" y="512.62" width="19.70" height="18.51" fill="#f6a981"/>
<rect x="143.40" y="512.62" width="19.70" height="18.51" fill="#03051a"/>
<rect x="161.80" y="512.62" width="19.70" height="18.51" fill="#03051a"/>
<rect x="180.20" y="512.62" width="19.70" height="18.51" fill="#03051a"/>
<rect x="198.60" y="512.62" width="19.70" height="18.51" fill="#0b0920"/>
<rect x="217.00" y="512.62" width="18.40" height="18.51" fill="#0b0920"/>
<rect x="51.40" y="529.83" width="19.70" height="18.51" fill="#03051a"/>
<rect x="69.80" y="529.83" width="19.70" height="18.51" fill="#03051a"/>
<rect x="88.20" y="529.83" width="19.70" height="18.51" fill="#130d25"/>
<rect x="106.60" y="529.83" width="19.70" height="18.51" fill="#03051a"/>
<rect x="125.00" y="529.83" width="19.70" height="18.51" fill="#03051a"/>
<rect x="143.40" y="529.83" width="19.70" height="18.51" fill="#f7cfb3"/>
<rect x="161.80" y="529.83" width="19.70" height="18.51" fill="#03051a"/>
<rect x="180.20" y="529.83" width="19.70" height="18.51" fill="#03051a"/>
<rect x="198.60" y="529.83" width="19.70" height="18.51" fill="#0b0920"/>
<rect x="217.00" y="529.83" width="18.40" height="18.51" fill="#03051a"/>
<rect x="51.40" y="547.03" width="19.70" height="18.51" fill="#03051a"/>
<rect x="69.80" y="547.03" width="19.70" height="18.51" fill="#03051a"/>
<rect x="88.20" y="547.03" width="19.70" height="18.51" fill="#03051a"/>
<rect x="106.60" y="547.03" width="19.70" height="18.51" fill="#03051a"/>
<rect x="125.00" y="547.03" width="19.70" height="18.51" fill="#03051a"/>
<rect x="143.40" y="547.03" width="19.70" height="18.51" fill="#03051a"/>
<rect x="161.80" y="547.03" width="19.70" height="18.51" fill="#fae9da"/>
<rect x="180.20" y="547.03" width="19.70" height="18.51" fill="#03051a"/>
<rect x="198.60" y="547.03" width="19.70" height="18.51" fill="#03051a"/>
<rect x="217.00" y="547.03" width="18.40" height="18.51" fill="#03051a"/>
<rect x="51.40" y="564.24" width="19.70" height="18.51" fill="#03051a"/>
<rect x="69.80" y="564.24" width="19.70" height="18.51" fill="#03051a"/>
<rect x="88.20" y="564.24" width="19.70" height="18.51" fill="#03051a"/>
<rect x="106.60" y="564.24" width="19.70" height="18.51" fill="#08081e"/>
<rect x="125.00" y="564.24" width="19.70" height="18.51" fill="#03051a"/>
<rect x="143.40" y="564.24" width="19.70" height="18.51" fill="#03051a"/>
<rect x="161.80" y="564.24" width="19.70" height="18.51" fill="#03051a"/>
<rect x="180.20" y="564.24" width="19.70" height="18.51" fill="#f9e0cd"/>
<rect x="198.60" y="564.24" width="19.70" height="18.51" fill="#08081e"/>
<rect x="217.00" y="564.24" width="18.40" height="18.51" fill="#03051a"/>
<rect x="51.40" y="581.44" width="19.70" height="18.51" fill="#03051a"/>
<rect x="69.80" y="581.44" width="19.70" height="18.51" fill="#03051a"/>
<rect x="88.20" y="581.44" width="19.70" height="18.51" fill="#0b0920"/>
<rect x="106.60" y="581.44" width="19.70" height="18.51" fill="#03051a"/>
<rect x="125.00" y="581.44" width="19.70" height="18.51" fill="#0b0920"/>
<rect x="143.40" y="581.44" width="19.70" height="18.51" fill="#08081e"/>
<rect x="161.80" y="581.44" width="19.70" height="18.51" fill="#03051a"/>
<rect x="180.20" y="581.44" width="19.70" height="18.51" fill="#08081e"/>
<rect x="198.60" y="581.44" width="19.70" height="18.51" fill="#f6be9b"/>
<rect x="217.00" y="581.44" width="18.40" height="18.51" fill="#0b0920"/>
<rect x="51.40" y="598.64" width="19.70" height="17.21" fill="#130d25"/>
<rect x="69.80" y="598.64" width="19.70" height="17.21" fill="#0b0920"/>
<rect x="88.20" y="598.64" width="19.70" height="17.21" fill="#03051a"/>
<rect x="106.60" y="598.64" width="19.70" height="17.21" fill="#03051a"/>
<rect x="125.00" y="598.64" width="19.70" height="17.21" fill="#130d25"/>
<rect x="143.40" y="598.64" width="19.70" height="17.21" fill="#03051a"/>
<rect x="161.80" y="598.64" width="19.70" height="17.21" fill="#03051a"/>
<rect x="180.20" y="598.64" width="19.70" height="17.21" fill="#03051a"/>
<rect x="198.60" y="598.64" width="19.70" height="17.21" fill="#08081e"/>
<rect x="217.00" y="598.64" width="18.40" height="17.21" fill="#f6b691"/>
<g font-size="4.77" text-anchor="middle" fill="#fff" stroke="#fff" stroke-width="0.05"><text x="79.00" y="454.54">0.10</text><text x="97.40" y="454.54">0.00</text><text x="115.80" y="454.54">0.00</text><text x="134.20" y="454.54">0.05</text><text x="152.60" y="454.54">0.00</text><text x="171.00" y="454.54">0.00</text><text x="189.40" y="454.54">0.00</text><text x="207.80" y="454.54">0.01</text><text x="226.20" y="454.54">0.05</text><text x="60.60" y="471.75">0.11</text><text x="79.00" y="471.75">0.75</text><text x="97.40" y="471.75">0.00</text><text x="115.80" y="471.75">0.00</text><text x="134.20" y="471.75">0.10</text><text x="152.60" y="471.75">0.00</text><text x="171.00" y="471.75">0.00</text><text x="189.40" y="471.75">0.00</text><text x="207.80" y="471.75">0.00</text><text x="226.20" y="471.75">0.04</text><text x="60.60" y="488.95">0.00</text><text x="79.00" y="488.95">0.00</text><text x="115.80" y="488.95">0.00</text><text x="134.20" y="488.95">0.00</text><text x="152.60" y="488.95">0.03</text><text x="171.00" y="488.95">0.00</text><text x="189.40" y="488.95">0.00</text><text x="207.80" y="488.95">0.03</text><text x="226.20" y="488.95">0.00</text><text x="60.60" y="506.16">0.00</text><text x="79.00" y="506.16">0.00</text><text x="97.40" y="506.16">0.00</text><text x="134.20" y="506.16">0.00</text><text x="152.60" y="506.16">0.00</text><text x="171.00" y="506.16">0.00</text><text x="189.40" y="506.16">0.02</text><text x="207.80" y="506.16">0.00</text><text x="226.20" y="506.16">0.00</text><text x="60.60" y="523.36">0.04</text><text x="79.00" y="523.36">0.07</text><text x="97.40" y="523.36">0.01</text><text x="115.80" y="523.36">0.00</text><text x="152.60" y="523.36">0.00</text><text x="171.00" y="523.36">0.00</text><text x="189.40" y="523.36">0.00</text><text x="207.80" y="523.36">0.03</text><text x="226.20" y="523.36">0.03</text><text x="60.60" y="540.57">0.00</text><text x="79.00" y="540.57">0.00</text><text x="97.40" y="540.57">0.05</text><text x="115.80" y="540.57">0.00</text><text x="134.20" y="540.57">0.00</text><text x="171.00" y="540.57">0.00</text><text x="189.40" y="540.57">0.00</text><text x="207.80" y="540.57">0.03</text><text x="226.20" y="540.57">0.00</text><text x="60.60" y="557.77">0.00</text><text x="79.00" y="557.77">0.00</text><text x="97.40" y="557.77">0.00</text><text x="115.80" y="557.77">0.00</text><text x="134.20" y="557.77">0.00</text><text x="152.60" y="557.77">0.00</text><text x="189.40" y="557.77">0.00</text><text x="207.80" y="557.77">0.00</text><text x="226.20" y="557.77">0.00</text><text x="60.60" y="574.98">0.00</text><text x="79.00" y="574.98">0.00</text><text x="97.40" y="574.98">0.00</text><text x="115.80" y="574.98">0.02</text><text x="134.20" y="574.98">0.00</text><text x="152.60" y="574.98">0.00</text><text x="171.00" y="574.98">0.00</text><text x="207.80" y="574.98">0.02</text><text x="226.20" y="574.98">0.00</text><text x="60.60" y="592.18">0.00</text><text x="79.00" y="592.18">0.00</text><text x="97.40" y="592.18">0.03</text><text x="115.80" y="592.18">0.00</text><text x="134.20" y="592.18">0.03</text><text x="152.60" y="592.18">0.02</text><text x="171.00" y="592.18">0.00</text><text x="189.40" y="592.18">0.02</text><text x="226.20" y="592.18">0.03</text><text x="60.60" y="609.39">0.05</text><text x="79.00" y="609.39">0.03</text><text x="97.40" y="609.39">0.00</text><text x="115.80" y="609.39">0.00</text><text x="134.20" y="609.39">0.05</text><text x="152.60" y="609.39">0.00</text><text x="171.00" y="609.39">0.00</text><text x="189.40" y="609.39">0.00</text><text x="207.80" y="609.39">0.02</text></g>
<g font-size="4.77" text-anchor="middle" fill="#262626" stroke="#262626" stroke-width="0.05"><text x="60.60" y="454.54">0.80</text><text x="97.40" y="488.95">0.94</text><text x="115.80" y="506.16">0.98</text><text x="134.20" y="523.36">0.82</text><text x="152.60" y="540.57">0.91</text><text x="171.00" y="557.77">0.98</text><text x="189.40" y="574.98">0.96</text><text x="207.80" y="592.18">0.87</text><text x="226.20" y="609.39">0.85</text></g>
<g font-size="5.11" text-anchor="end" fill="#262626" stroke="#262626" stroke-width="0.12">
<text x="47.70" y="454.27">LowLubricate</text>
<text x="47.70" y="471.47">OverLubricate</text>
<text x="47.70" y="488.68">SlowSpeed</text>
<text x="47.70" y="505.88">Steam</text>
<text x="47.70" y="523.09">Cavitation</text>
<text x="47.70" y="540.29">MotorBoating</text>
<text x="47.70" y="557.50">Reciprocating</text>
<text x="47.70" y="574.70">Thermostatic</text>
<text x="47.70" y="591.91">HealthyPipe</text>
<text x="47.70" y="609.11">HealthyMotor</text>
</g>
<g font-size="5.11" text-anchor="middle" fill="#262626" stroke="#262626" stroke-width="0.12">
<text x="60.60" y="636.67" transform="rotate(-45 60.60 634.81)">LowLubricate</text>
<text x="79.00" y="637.46" transform="rotate(-45 79.00 635.59)">OverLubricate</text>
<text x="97.40" y="634.58" transform="rotate(-45 97.40 632.71)">SlowSpeed</text>
<text x="115.80" y="630.51" transform="rotate(-45 115.80 628.65)">Steam</text>
<text x="134.20" y="633.90" transform="rotate(-45 134.20 632.03)">Cavitation</text>
<text x="152.60" y="636.86" transform="rotate(-45 152.60 634.99)">MotorBoating</text>
<text x="171.00" y="637.02" transform="rotate(-45 171.00 635.15)">Reciprocating</text>
<text x="189.40" y="636.58" transform="rotate(-45 189.40 634.71)">Thermostatic</text>
<text x="207.80" y="635.49" transform="rotate(-45 207.80 633.63)">HealthyPipe</text>
<text x="226.20" y="636.90" transform="rotate(-45 226.20 635.04)">HealthyMotor</text>
</g>
<path d="M48.97 452.40h2.43M60.60 615.85v2.43M48.97 469.61h2.43M79.00 615.85v2.43M48.97 486.81h2.43M97.40 615.85v2.43M48.97 504.02h2.43M115.80 615.85v2.43M48.97 521.22h2.43M134.20 615.85v2.43M48.97 538.43h2.43M152.60 615.85v2.43M48.97 555.63h2.43M171.00 615.85v2.43M48.97 572.84h2.43M189.40 615.85v2.43M48.97 590.04h2.43M207.80 615.85v2.43M48.97 607.25h2.43M226.20 615.85v2.43" stroke="#444" stroke-width="0.45" fill="none"/>
<text x="143.40" y="440.00" font-size="6.30" text-anchor="middle" fill="#262626">Predicted</text>
<text x="132.50" y="653.50" font-size="6.30" text-anchor="middle" fill="#262626">Predicted</text>
<text x="8.00" y="531.80" font-size="6.60" text-anchor="middle" fill="#262626" transform="rotate(-90 8.00 531.80)">Actual</text>
<rect x="246.80" y="443.80" width="8.30" height="172.05" fill="url(#gdt)"/>
<g font-size="4.87" fill="#262626" stroke="#262626" stroke-width="0.12">
<text x="259.10" y="617.93">0.0</text>
<text x="259.10" y="583.06">0.2</text>
<text x="259.10" y="548.20">0.4</text>
<text x="259.10" y="513.34">0.6</text>
<text x="259.10" y="478.47">0.8</text>
</g>
<path d="M255.10 615.85h1.50M255.10 580.99h1.50M255.10 546.12h1.50M255.10 511.26h1.50M255.10 476.40h1.50" stroke="#444" stroke-width="0.45" fill="none"/>
<text x="11.20" y="436.20" font-family="'Liberation Serif',serif" font-weight="bold" font-size="10.70" fill="#111">DT</text></g>
<g id="pmeta"><rect x="325.50" y="443.80" width="20.28" height="18.87" fill="#f7c9aa"/>
<rect x="344.48" y="443.80" width="20.28" height="18.87" fill="#100b23"/>
<rect x="363.46" y="443.80" width="20.28" height="18.87" fill="#03051a"/>
<rect x="382.44" y="443.80" width="20.28" height="18.87" fill="#03051a"/>
<rect x="401.42" y="443.80" width="20.28" height="18.87" fill="#08081e"/>
<rect x="420.40" y="443.80" width="20.28" height="18.87" fill="#03051a"/>
<rect x="439.38" y="443.80" width="20.28" height="18.87" fill="#03051a"/>
<rect x="458.36" y="443.80" width="20.28" height="18.87" fill="#03051a"/>
<rect x="477.34" y="443.80" width="20.28" height="18.87" fill="#03051a"/>
<rect x="496.32" y="443.80" width="18.98" height="18.87" fill="#08081e"/>
<rect x="325.50" y="461.37" width="20.28" height="18.87" fill="#2d1738"/>
<rect x="344.48" y="461.37" width="20.28" height="18.87" fill="#f6a981"/>
<rect x="363.46" y="461.37" width="20.28" height="18.87" fill="#03051a"/>
<rect x="382.44" y="461.37" width="20.28" height="18.87" fill="#03051a"/>
<rect x="401.42" y="461.37" width="20.28" height="18.87" fill="#0b0920"/>
<rect x="420.40" y="461.37" width="20.28" height="18.87" fill="#03051a"/>
<rect x="439.38" y="461.37" width="20.28" height="18.87" fill="#03051a"/>
<rect x="458.36" y="461.37" width="20.28" height="18.87" fill="#03051a"/>
<rect x="477.34" y="461.37" width="20.28" height="18.87" fill="#03051a"/>
<rect x="496.32" y="461.37" width="18.98" height="18.87" fill="#05061b"/>
<rect x="325.50" y="478.94" width="20.28" height="18.87" fill="#03051a"/>
<rect x="344.48" y="478.94" width="20.28" height="18.87" fill="#03051a"/>
<rect x="363.46" y="478.94" width="20.28" height="18.87" fill="#f8d1b8"/>
<rect x="382.44" y="478.94" width="20.28" height="18.87" fill="#03051a"/>
<rect x="401.42" y="478.94" width="20.28" height="18.87" fill="#03051a"/>
<rect x="420.40" y="478.94" width="20.28" height="18.87" fill="#0b0920"/>
<rect x="439.38" y="478.94" width="20.28" height="18.87" fill="#03051a"/>
<rect x="458.36" y="478.94" width="20.28" height="18.87" fill="#03051a"/>
<rect x="477.34" y="478.94" width="20.28" height="18.87" fill="#0b0920"/>
<rect x="496.32" y="478.94" width="18.98" height="18.87" fill="#03051a"/>
<rect x="325.50" y="496.51" width="20.28" height="18.87" fill="#03051a"/>
<rect x="344.48" y="496.51" width="20.28" height="18.87" fill="#03051a"/>
<rect x="363.46" y="496.51" width="20.28" height="18.87" fill="#03051a"/>
<rect x="382.44" y="496.51" width="20.28" height="18.87" fill="#faebdd"/>
<rect x="401.42" y="496.51" width="20.28" height="18.87" fill="#03051a"/>
<rect x="420.40" y="496.51" width="20.28" height="18.87" fill="#03051a"/>
<rect x="439.38" y="496.51" width="20.28" height="18.87" fill="#03051a"/>
<rect x="458.36" y="496.51" width="20.28" height="18.87" fill="#03051a"/>
<rect x="477.34" y="496.51" width="20.28" height="18.87" fill="#03051a"/>
<rect x="496.32" y="496.51" width="18.98" height="18.87" fill="#03051a"/>
<rect x="325.50" y="514.08" width="20.28" height="18.87" fill="#08081e"/>
<rect x="344.48" y="514.08" width="20.28" height="18.87" fill="#100b23"/>
<rect x="363.46" y="514.08" width="20.28" height="18.87" fill="#03051a"/>
<rect x="382.44" y="514.08" width="20.28" height="18.87" fill="#03051a"/>
<rect x="401.42" y="514.08" width="20.28" height="18.87" fill="#f7c9aa"/>
<rect x="420.40" y="514.08" width="20.28" height="18.87" fill="#03051a"/>
<rect x="439.38" y="514.08" width="20.28" height="18.87" fill="#03051a"/>
<rect x="458.36" y="514.08" width="20.28" height="18.87" fill="#03051a"/>
<rect x="477.34" y="514.08" width="20.28" height="18.87" fill="#05061b"/>
<rect x="496.32" y="514.08" width="18.98" height="18.87" fill="#08081e"/>
<rect x="325.50" y="531.65" width="20.28" height="18.87" fill="#03051a"/>
<rect x="344.48" y="531.65" width="20.28" height="18.87" fill="#03051a"/>
<rect x="363.46" y="531.65" width="20.28" height="18.87" fill="#0b0920"/>
<rect x="382.44" y="531.65" width="20.28" height="18.87" fill="#03051a"/>
<rect x="401.42" y="531.65" width="20.28" height="18.87" fill="#03051a"/>
<rect x="420.40" y="531.65" width="20.28" height="18.87" fill="#f8dcc7"/>
<rect x="439.38" y="531.65" width="20.28" height="18.87" fill="#03051a"/>
<rect x="458.36" y="531.65" width="20.28" height="18.87" fill="#03051a"/>
<rect x="477.34" y="531.65" width="20.28" height="18.87" fill="#05061b"/>
<rect x="496.32" y="531.65" width="18.98" height="18.87" fill="#03051a"/>
<rect x="325.50" y="549.22" width="20.28" height="18.87" fill="#03051a"/>
<rect x="344.48" y="549.22" width="20.28" height="18.87" fill="#03051a"/>
<rect x="363.46" y="549.22" width="20.28" height="18.87" fill="#03051a"/>
<rect x="382.44" y="549.22" width="20.28" height="18.87" fill="#03051a"/>
<rect x="401.42" y="549.22" width="20.28" height="18.87" fill="#03051a"/>
<rect x="420.40" y="549.22" width="20.28" height="18.87" fill="#03051a"/>
<rect x="439.38" y="549.22" width="20.28" height="18.87" fill="#faebdd"/>
<rect x="458.36" y="549.22" width="20.28" height="18.87" fill="#03051a"/>
<rect x="477.34" y="549.22" width="20.28" height="18.87" fill="#03051a"/>
<rect x="496.32" y="549.22" width="18.98" height="18.87" fill="#03051a"/>
<rect x="325.50" y="566.79" width="20.28" height="18.87" fill="#03051a"/>
<rect x="344.48" y="566.79" width="20.28" height="18.87" fill="#03051a"/>
<rect x="363.46" y="566.79" width="20.28" height="18.87" fill="#03051a"/>
<rect x="382.44" y="566.79" width="20.28" height="18.87" fill="#03051a"/>
<rect x="401.42" y="566.79" width="20.28" height="18.87" fill="#03051a"/>
<rect x="420.40" y="566.79" width="20.28" height="18.87" fill="#03051a"/>
<rect x="439.38" y="566.79" width="20.28" height="18.87" fill="#03051a"/>
<rect x="458.36" y="566.79" width="20.28" height="18.87" fill="#fae8d8"/>
<rect x="477.34" y="566.79" width="20.28" height="18.87" fill="#05061b"/>
<rect x="496.32" y="566.79" width="18.98" height="18.87" fill="#03051a"/>
<rect x="325.50" y="584.36" width="20.28" height="18.87" fill="#03051a"/>
<rect x="344.48" y="584.36" width="20.28" height="18.87" fill="#03051a"/>
<rect x="363.46" y="584.36" width="20.28" height="18.87" fill="#0b0920"/>
<rect x="382.44" y="584.36" width="20.28" height="18.87" fill="#03051a"/>
<rect x="401.42" y="584.36" width="20.28" height="18.87" fill="#08081e"/>
<rect x="420.40" y="584.36" width="20.28" height="18.87" fill="#08081e"/>
<rect x="439.38" y="584.36" width="20.28" height="18.87" fill="#03051a"/>
<rect x="458.36" y="584.36" width="20.28" height="18.87" fill="#05061b"/>
<rect x="477.34" y="584.36" width="20.28" height="18.87" fill="#f6be9b"/>
<rect x="496.32" y="584.36" width="18.98" height="18.87" fill="#100b23"/>
<rect x="325.50" y="601.93" width="20.28" height="17.57" fill="#130d25"/>
<rect x="344.48" y="601.93" width="20.28" height="17.57" fill="#08081e"/>
<rect x="363.46" y="601.93" width="20.28" height="17.57" fill="#03051a"/>
<rect x="382.44" y="601.93" width="20.28" height="17.57" fill="#03051a"/>
<rect x="401.42" y="601.93" width="20.28" height="17.57" fill="#0b0920"/>
<rect x="420.40" y="601.93" width="20.28" height="17.57" fill="#03051a"/>
<rect x="439.38" y="601.93" width="20.28" height="17.57" fill="#03051a"/>
<rect x="458.36" y="601.93" width="20.28" height="17.57" fill="#03051a"/>
<rect x="477.34" y="601.93" width="20.28" height="17.57" fill="#03051a"/>
<rect x="496.32" y="601.93" width="18.98" height="17.57" fill="#f7c6a6"/>
<g font-size="4.10" text-anchor="middle" fill="#fff" stroke="#fff" stroke-width="0.05"><text x="353.97" y="454.38">0.04</text><text x="372.95" y="454.38">0.00</text><text x="391.93" y="454.38">0.00</text><text x="410.91" y="454.38">0.02</text><text x="429.89" y="454.38">0.00</text><text x="448.87" y="454.38">0.00</text><text x="467.85" y="454.38">0.00</text><text x="486.83" y="454.38">0.00</text><text x="505.81" y="454.38">0.02</text><text x="334.99" y="471.95">0.12</text><text x="372.95" y="471.95">0.00</text><text x="391.93" y="471.95">0.00</text><text x="410.91" y="471.95">0.03</text><text x="429.89" y="471.95">0.00</text><text x="448.87" y="471.95">0.00</text><text x="467.85" y="471.95">0.00</text><text x="486.83" y="471.95">0.00</text><text x="505.81" y="471.95">0.01</text><text x="334.99" y="489.52">0.00</text><text x="353.97" y="489.52">0.00</text><text x="391.93" y="489.52">0.00</text><text x="410.91" y="489.52">0.00</text><text x="429.89" y="489.52">0.03</text><text x="448.87" y="489.52">0.00</text><text x="467.85" y="489.52">0.00</text><text x="486.83" y="489.52">0.03</text><text x="505.81" y="489.52">0.00</text><text x="334.99" y="507.09">0.00</text><text x="353.97" y="507.09">0.00</text><text x="372.95" y="507.09">0.00</text><text x="410.91" y="507.09">0.00</text><text x="429.89" y="507.09">0.00</text><text x="448.87" y="507.09">0.00</text><text x="467.85" y="507.09">0.00</text><text x="486.83" y="507.09">0.00</text><text x="505.81" y="507.09">0.00</text><text x="334.99" y="524.66">0.02</text><text x="353.97" y="524.66">0.04</text><text x="372.95" y="524.66">0.00</text><text x="391.93" y="524.66">0.00</text><text x="429.89" y="524.66">0.00</text><text x="448.87" y="524.66">0.00</text><text x="467.85" y="524.66">0.00</text><text x="486.83" y="524.66">0.01</text><text x="505.81" y="524.66">0.02</text><text x="334.99" y="542.23">0.00</text><text x="353.97" y="542.23">0.00</text><text x="372.95" y="542.23">0.03</text><text x="391.93" y="542.23">0.00</text><text x="410.91" y="542.23">0.00</text><text x="448.87" y="542.23">0.00</text><text x="467.85" y="542.23">0.00</text><text x="486.83" y="542.23">0.01</text><text x="505.81" y="542.23">0.00</text><text x="334.99" y="559.80">0.00</text><text x="353.97" y="559.80">0.00</text><text x="372.95" y="559.80">0.00</text><text x="391.93" y="559.80">0.00</text><text x="410.91" y="559.80">0.00</text><text x="429.89" y="559.80">0.00</text><text x="467.85" y="559.80">0.00</text><text x="486.83" y="559.80">0.00</text><text x="505.81" y="559.80">0.00</text><text x="334.99" y="577.37">0.00</text><text x="353.97" y="577.37">0.00</text><text x="372.95" y="577.37">0.00</text><text x="391.93" y="577.37">0.00</text><text x="410.91" y="577.37">0.00</text><text x="429.89" y="577.37">0.00</text><text x="448.87" y="577.37">0.00</text><text x="486.83" y="577.37">0.01</text><text x="505.81" y="577.37">0.00</text><text x="334.99" y="594.94">0.00</text><text x="353.97" y="594.94">0.00</text><text x="372.95" y="594.94">0.03</text><text x="391.93" y="594.94">0.00</text><text x="410.91" y="594.94">0.02</text><text x="429.89" y="594.94">0.02</text><text x="448.87" y="594.94">0.00</text><text x="467.85" y="594.94">0.01</text><text x="505.81" y="594.94">0.04</text><text x="334.99" y="612.51">0.05</text><text x="353.97" y="612.51">0.02</text><text x="372.95" y="612.51">0.00</text><text x="391.93" y="612.51">0.00</text><text x="410.91" y="612.51">0.03</text><text x="429.89" y="612.51">0.00</text><text x="448.87" y="612.51">0.00</text><text x="467.85" y="612.51">0.00</text><text x="486.83" y="612.51">0.00</text></g>
<g font-size="4.10" text-anchor="middle" fill="#262626" stroke="#262626" stroke-width="0.05"><text x="334.99" y="454.38">0.91</text><text x="353.97" y="471.95">0.83</text><text x="372.95" y="489.52">0.93</text><text x="391.93" y="507.09">1.00</text><text x="410.91" y="524.66">0.91</text><text x="429.89" y="542.23">0.96</text><text x="448.87" y="559.80">1.00</text><text x="467.85" y="577.37">0.99</text><text x="486.83" y="594.94">0.88</text><text x="505.81" y="612.51">0.90</text></g>
<g font-size="4.10" text-anchor="end" fill="#262626" stroke="#262626" stroke-width="0.12">
<text x="322.30" y="454.08">LowLubricate</text>
<text x="322.30" y="471.65">OverLubricate</text>
<text x="322.30" y="489.22">SlowSpeed</text>
<text x="322.30" y="506.79">Steam</text>
<text x="322.30" y="524.36">Cavitation</text>
<text x="322.30" y="541.93">MotorBoating</text>
<text x="322.30" y="559.50">Reciprocating</text>
<text x="322.30" y="577.07">Thermostatic</text>
<text x="322.30" y="594.64">HealthyPipe</text>
<text x="322.30" y="612.21">HealthyMotor</text>
</g>
<g font-size="4.10" text-anchor="middle" fill="#262626" stroke="#262626" stroke-width="0.12">
<text x="334.99" y="635.50" transform="rotate(-45 334.99 634.00)">LowLubricate</text>
<text x="353.97" y="636.13" transform="rotate(-45 353.97 634.63)">OverLubricate</text>
<text x="372.95" y="633.82" transform="rotate(-45 372.95 632.32)">SlowSpeed</text>
<text x="391.93" y="630.56" transform="rotate(-45 391.93 629.06)">Steam</text>
<text x="410.91" y="633.27" transform="rotate(-45 410.91 631.78)">Cavitation</text>
<text x="429.89" y="635.65" transform="rotate(-45 429.89 634.15)">MotorBoating</text>
<text x="448.87" y="635.78" transform="rotate(-45 448.87 634.28)">Reciprocating</text>
<text x="467.85" y="635.42" transform="rotate(-45 467.85 633.93)">Thermostatic</text>
<text x="486.83" y="634.55" transform="rotate(-45 486.83 633.06)">HealthyPipe</text>
<text x="505.81" y="635.68" transform="rotate(-45 505.81 634.19)">HealthyMotor</text>
</g>
<path d="M323.30 452.59h2.20M334.99 619.50v2.20M323.30 470.16h2.20M353.97 619.50v2.20M323.30 487.73h2.20M372.95 619.50v2.20M323.30 505.30h2.20M391.93 619.50v2.20M323.30 522.87h2.20M410.91 619.50v2.20M323.30 540.44h2.20M429.89 619.50v2.20M323.30 558.00h2.20M448.87 619.50v2.20M323.30 575.58h2.20M467.85 619.50v2.20M323.30 593.14h2.20M486.83 619.50v2.20M323.30 610.72h2.20M505.81 619.50v2.20" stroke="#444" stroke-width="0.45" fill="none"/>
<text x="420.50" y="439.20" font-size="6.30" text-anchor="middle" fill="#262626">Predicted</text>
<text x="420.50" y="654.30" font-size="6.30" text-anchor="middle" fill="#262626">Predicted</text>
<text x="290.90" y="537.10" font-size="6.60" text-anchor="middle" fill="#262626" transform="rotate(-90 290.90 537.10)">Actual</text>
<rect x="527.10" y="443.80" width="8.90" height="175.70" fill="url(#gmeta)"/>
<g font-size="3.80" fill="#262626" stroke="#262626" stroke-width="0.12">
<text x="539.60" y="621.29">0.0</text>
<text x="539.60" y="586.15">0.2</text>
<text x="539.60" y="551.01">0.4</text>
<text x="539.60" y="515.87">0.6</text>
<text x="539.60" y="480.73">0.8</text>
<text x="539.60" y="445.59">1.0</text>
</g>
<path d="M536.00 619.50h1.20M536.00 584.36h1.20M536.00 549.22h1.20M536.00 514.08h1.20M536.00 478.94h1.20M536.00 443.80h1.20" stroke="#444" stroke-width="0.45" fill="none"/>
<text x="275.10" y="434.90" font-family="'Liberation Serif',serif" font-weight="bold" font-size="10.70" fill="#111">Meta</text></g>
</g>
</svg>
</body></html>
